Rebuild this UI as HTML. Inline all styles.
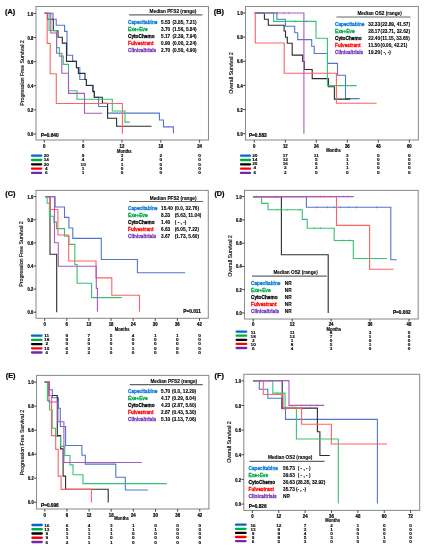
<!DOCTYPE html>
<html><head><meta charset="utf-8"><style>
html,body{margin:0;padding:0;background:#fff;width:424px;height:550px;overflow:hidden}
svg{display:block;will-change:transform}
text{font-family:"Liberation Sans", sans-serif}
</style></head><body>
<svg width="424" height="550" viewBox="0 0 424 550">
<rect width="424" height="550" fill="#fff"/>
<rect x="36.00" y="6.50" width="172.50" height="133.50" fill="none" stroke="#8c8c8c" stroke-width="1.05"/>
<text transform="translate(5.00,14.20) scale(1.0,1)" font-size="7.3" font-weight="bold" fill="#000" text-anchor="start" stroke="#000" stroke-width="0.22">(A)</text>
<line x1="33.60" y1="134.00" x2="36.00" y2="134.00" stroke="#333" stroke-width="0.9"/>
<text transform="translate(33.20,136.10) scale(0.85,1)" font-size="4.8" font-weight="bold" fill="#000" text-anchor="end" stroke="#000" stroke-width="0.2">0.0</text>
<line x1="33.60" y1="109.88" x2="36.00" y2="109.88" stroke="#333" stroke-width="0.9"/>
<text transform="translate(33.20,111.98) scale(0.85,1)" font-size="4.8" font-weight="bold" fill="#000" text-anchor="end" stroke="#000" stroke-width="0.2">0.2</text>
<line x1="33.60" y1="85.76" x2="36.00" y2="85.76" stroke="#333" stroke-width="0.9"/>
<text transform="translate(33.20,87.86) scale(0.85,1)" font-size="4.8" font-weight="bold" fill="#000" text-anchor="end" stroke="#000" stroke-width="0.2">0.4</text>
<line x1="33.60" y1="61.64" x2="36.00" y2="61.64" stroke="#333" stroke-width="0.9"/>
<text transform="translate(33.20,63.74) scale(0.85,1)" font-size="4.8" font-weight="bold" fill="#000" text-anchor="end" stroke="#000" stroke-width="0.2">0.6</text>
<line x1="33.60" y1="37.52" x2="36.00" y2="37.52" stroke="#333" stroke-width="0.9"/>
<text transform="translate(33.20,39.62) scale(0.85,1)" font-size="4.8" font-weight="bold" fill="#000" text-anchor="end" stroke="#000" stroke-width="0.2">0.8</text>
<line x1="33.60" y1="13.40" x2="36.00" y2="13.40" stroke="#333" stroke-width="0.9"/>
<text transform="translate(33.20,15.50) scale(0.85,1)" font-size="4.8" font-weight="bold" fill="#000" text-anchor="end" stroke="#000" stroke-width="0.2">1.0</text>
<text transform="translate(21.60,73.00) rotate(-90) scale(0.9,1)" font-size="5.9" font-weight="normal" fill="#111" stroke="#111" stroke-width="0.18" text-anchor="middle" y="2.1">Progression Free Survival 2</text>
<line x1="44.30" y1="140.00" x2="44.30" y2="142.60" stroke="#333" stroke-width="0.9"/>
<text transform="translate(44.30,148.25) scale(0.9,1)" font-size="4.8" font-weight="bold" fill="#000" text-anchor="middle" stroke="#000" stroke-width="0.2">0</text>
<line x1="83.13" y1="140.00" x2="83.13" y2="142.60" stroke="#333" stroke-width="0.9"/>
<text transform="translate(83.13,148.25) scale(0.9,1)" font-size="4.8" font-weight="bold" fill="#000" text-anchor="middle" stroke="#000" stroke-width="0.2">6</text>
<line x1="121.96" y1="140.00" x2="121.96" y2="142.60" stroke="#333" stroke-width="0.9"/>
<text transform="translate(121.96,148.25) scale(0.9,1)" font-size="4.8" font-weight="bold" fill="#000" text-anchor="middle" stroke="#000" stroke-width="0.2">12</text>
<line x1="160.79" y1="140.00" x2="160.79" y2="142.60" stroke="#333" stroke-width="0.9"/>
<text transform="translate(160.79,148.25) scale(0.9,1)" font-size="4.8" font-weight="bold" fill="#000" text-anchor="middle" stroke="#000" stroke-width="0.2">18</text>
<line x1="199.62" y1="140.00" x2="199.62" y2="142.60" stroke="#333" stroke-width="0.9"/>
<text transform="translate(199.62,148.25) scale(0.9,1)" font-size="4.8" font-weight="bold" fill="#000" text-anchor="middle" stroke="#000" stroke-width="0.2">24</text>
<text transform="translate(124.30,152.75) scale(0.8,1)" font-size="5.2" font-weight="bold" fill="#000" text-anchor="middle" stroke="#000" stroke-width="0.15">Months</text>
<text transform="translate(40.80,136.90) scale(0.765,1)" font-size="6.2" font-weight="bold" fill="#000" text-anchor="start" stroke="#000" stroke-width="0.25">P=0.640</text>
<line x1="32.00" y1="155.70" x2="41.20" y2="155.70" stroke="#0068c8" stroke-width="2.3" stroke-linecap="round"/>
<text transform="translate(46.30,157.00) scale(1.15,1)" font-size="4.1" font-weight="bold" fill="#000" text-anchor="middle" stroke="#000" stroke-width="0.1">20</text>
<text transform="translate(83.13,157.00) scale(1.15,1)" font-size="4.1" font-weight="bold" fill="#000" text-anchor="middle" stroke="#000" stroke-width="0.1">9</text>
<text transform="translate(121.96,157.00) scale(1.15,1)" font-size="4.1" font-weight="bold" fill="#000" text-anchor="middle" stroke="#000" stroke-width="0.1">3</text>
<text transform="translate(160.79,157.00) scale(1.15,1)" font-size="4.1" font-weight="bold" fill="#000" text-anchor="middle" stroke="#000" stroke-width="0.1">2</text>
<text transform="translate(199.62,157.00) scale(1.15,1)" font-size="4.1" font-weight="bold" fill="#000" text-anchor="middle" stroke="#000" stroke-width="0.1">0</text>
<line x1="32.00" y1="160.00" x2="41.20" y2="160.00" stroke="#00aa44" stroke-width="2.3" stroke-linecap="round"/>
<text transform="translate(46.30,161.28) scale(1.15,1)" font-size="4.1" font-weight="bold" fill="#000" text-anchor="middle" stroke="#000" stroke-width="0.1">14</text>
<text transform="translate(83.13,161.28) scale(1.15,1)" font-size="4.1" font-weight="bold" fill="#000" text-anchor="middle" stroke="#000" stroke-width="0.1">4</text>
<text transform="translate(121.96,161.28) scale(1.15,1)" font-size="4.1" font-weight="bold" fill="#000" text-anchor="middle" stroke="#000" stroke-width="0.1">2</text>
<text transform="translate(160.79,161.28) scale(1.15,1)" font-size="4.1" font-weight="bold" fill="#000" text-anchor="middle" stroke="#000" stroke-width="0.1">0</text>
<text transform="translate(199.62,161.28) scale(1.15,1)" font-size="4.1" font-weight="bold" fill="#000" text-anchor="middle" stroke="#000" stroke-width="0.1">0</text>
<line x1="32.00" y1="164.30" x2="41.20" y2="164.30" stroke="#000" stroke-width="2.3" stroke-linecap="round"/>
<text transform="translate(46.30,165.56) scale(1.15,1)" font-size="4.1" font-weight="bold" fill="#000" text-anchor="middle" stroke="#000" stroke-width="0.1">20</text>
<text transform="translate(83.13,165.56) scale(1.15,1)" font-size="4.1" font-weight="bold" fill="#000" text-anchor="middle" stroke="#000" stroke-width="0.1">10</text>
<text transform="translate(121.96,165.56) scale(1.15,1)" font-size="4.1" font-weight="bold" fill="#000" text-anchor="middle" stroke="#000" stroke-width="0.1">1</text>
<text transform="translate(160.79,165.56) scale(1.15,1)" font-size="4.1" font-weight="bold" fill="#000" text-anchor="middle" stroke="#000" stroke-width="0.1">0</text>
<text transform="translate(199.62,165.56) scale(1.15,1)" font-size="4.1" font-weight="bold" fill="#000" text-anchor="middle" stroke="#000" stroke-width="0.1">0</text>
<line x1="32.00" y1="168.60" x2="41.20" y2="168.60" stroke="#ff0000" stroke-width="2.3" stroke-linecap="round"/>
<text transform="translate(46.30,169.84) scale(1.15,1)" font-size="4.1" font-weight="bold" fill="#000" text-anchor="middle" stroke="#000" stroke-width="0.1">4</text>
<text transform="translate(83.13,169.84) scale(1.15,1)" font-size="4.1" font-weight="bold" fill="#000" text-anchor="middle" stroke="#000" stroke-width="0.1">1</text>
<text transform="translate(121.96,169.84) scale(1.15,1)" font-size="4.1" font-weight="bold" fill="#000" text-anchor="middle" stroke="#000" stroke-width="0.1">0</text>
<text transform="translate(160.79,169.84) scale(1.15,1)" font-size="4.1" font-weight="bold" fill="#000" text-anchor="middle" stroke="#000" stroke-width="0.1">0</text>
<text transform="translate(199.62,169.84) scale(1.15,1)" font-size="4.1" font-weight="bold" fill="#000" text-anchor="middle" stroke="#000" stroke-width="0.1">0</text>
<line x1="32.00" y1="172.90" x2="41.20" y2="172.90" stroke="#6e2aaa" stroke-width="2.3" stroke-linecap="round"/>
<text transform="translate(46.30,174.12) scale(1.15,1)" font-size="4.1" font-weight="bold" fill="#000" text-anchor="middle" stroke="#000" stroke-width="0.1">6</text>
<text transform="translate(83.13,174.12) scale(1.15,1)" font-size="4.1" font-weight="bold" fill="#000" text-anchor="middle" stroke="#000" stroke-width="0.1">1</text>
<text transform="translate(121.96,174.12) scale(1.15,1)" font-size="4.1" font-weight="bold" fill="#000" text-anchor="middle" stroke="#000" stroke-width="0.1">0</text>
<text transform="translate(160.79,174.12) scale(1.15,1)" font-size="4.1" font-weight="bold" fill="#000" text-anchor="middle" stroke="#000" stroke-width="0.1">0</text>
<text transform="translate(199.62,174.12) scale(1.15,1)" font-size="4.1" font-weight="bold" fill="#000" text-anchor="middle" stroke="#000" stroke-width="0.1">0</text>
<path d="M44.70,13.30H53.00V19.30H56.20V25.30H64.60V31.40H67.00V55.20H72.60V61.30H76.40V67.70H79.80V79.50H86.40V85.40H93.00V91.30H94.30V97.30H98.60V106.50H107.50V113.10H159.40V120.00H163.50V126.90H173.40V133.20" fill="none" stroke="#5276cc" stroke-width="1.1" stroke-linejoin="miter"/>
<path d="M44.70,13.30H47.50V19.20H53.30V30.70H58.00V37.30H62.30V43.10H66.50V61.40H76.50V67.70H78.40V73.40H85.00V79.50H86.40V85.50H92.90V91.60H94.30V97.30H102.40V103.40H107.60V118.30H116.60V126.30H151.50" fill="none" stroke="#2c2c2c" stroke-width="1.1" stroke-linejoin="miter"/>
<path d="M44.70,13.30H49.10V30.50H56.60V47.60H59.40V56.10H63.30V64.40H68.50V90.70H77.00V99.30H112.30V111.00H125.00V122.10H129.80" fill="none" stroke="#36c274" stroke-width="1.1" stroke-linejoin="miter"/>
<path d="M44.70,13.30H47.20V43.40H50.20V73.70H56.30V103.50H122.40V133.80" fill="none" stroke="#ff6262" stroke-width="1.1" stroke-linejoin="miter"/>
<path d="M44.70,13.30H50.80V33.00H56.60V53.30H61.80V73.20H68.50V93.40H84.50V113.30H102.40" fill="none" stroke="#ab5abc" stroke-width="1.1" stroke-linejoin="miter"/>
<text transform="translate(149.60,13.00) scale(0.765,1)" font-size="6.2" font-weight="bold" fill="#000" text-anchor="start" stroke="#000" stroke-width="0.12">Median PFS2 (range)</text>
<line x1="129.10" y1="14.80" x2="202.40" y2="14.80" stroke="#666" stroke-width="1.2"/>
<text transform="translate(128.00,23.80) scale(0.765,1)" font-size="6.2" font-weight="bold" fill="#0a78d8" text-anchor="start" stroke="#0a78d8" stroke-width="0.3">Capecitabine</text>
<text transform="translate(161.00,23.80) scale(0.765,1)" font-size="6.2" font-weight="bold" fill="#000" text-anchor="start" stroke="#000" stroke-width="0.12">5.53</text>
<text transform="translate(172.50,23.80) scale(0.765,1)" font-size="6.2" font-weight="bold" fill="#000" text-anchor="start" stroke="#000" stroke-width="0.12">(3.85, 7.21)</text>
<text transform="translate(128.00,30.75) scale(0.765,1)" font-size="6.2" font-weight="bold" fill="#00a848" text-anchor="start" stroke="#00a848" stroke-width="0.3">Exe+Eve</text>
<text transform="translate(161.00,30.75) scale(0.765,1)" font-size="6.2" font-weight="bold" fill="#000" text-anchor="start" stroke="#000" stroke-width="0.12">3.70</text>
<text transform="translate(172.50,30.75) scale(0.765,1)" font-size="6.2" font-weight="bold" fill="#000" text-anchor="start" stroke="#000" stroke-width="0.12">(1.56, 5.84)</text>
<text transform="translate(128.00,37.70) scale(0.765,1)" font-size="6.2" font-weight="bold" fill="#000" text-anchor="start" stroke="#000" stroke-width="0.3">CytoChemo</text>
<text transform="translate(161.00,37.70) scale(0.765,1)" font-size="6.2" font-weight="bold" fill="#000" text-anchor="start" stroke="#000" stroke-width="0.12">5.17</text>
<text transform="translate(172.50,37.70) scale(0.765,1)" font-size="6.2" font-weight="bold" fill="#000" text-anchor="start" stroke="#000" stroke-width="0.12">(2.39, 7.94)</text>
<text transform="translate(128.00,44.65) scale(0.765,1)" font-size="6.2" font-weight="bold" fill="#ff0000" text-anchor="start" stroke="#ff0000" stroke-width="0.3">Fulvestrant</text>
<text transform="translate(161.00,44.65) scale(0.765,1)" font-size="6.2" font-weight="bold" fill="#000" text-anchor="start" stroke="#000" stroke-width="0.12">0.90</text>
<text transform="translate(172.50,44.65) scale(0.765,1)" font-size="6.2" font-weight="bold" fill="#000" text-anchor="start" stroke="#000" stroke-width="0.12">(0.00, 2.24)</text>
<text transform="translate(128.00,51.60) scale(0.765,1)" font-size="6.2" font-weight="bold" fill="#7434b8" text-anchor="start" stroke="#7434b8" stroke-width="0.3">Clinicaltrials</text>
<text transform="translate(161.00,51.60) scale(0.765,1)" font-size="6.2" font-weight="bold" fill="#000" text-anchor="start" stroke="#000" stroke-width="0.12">2.70</text>
<text transform="translate(172.50,51.60) scale(0.765,1)" font-size="6.2" font-weight="bold" fill="#000" text-anchor="start" stroke="#000" stroke-width="0.12">(0.50, 4.90)</text>
<rect x="245.50" y="6.50" width="172.90" height="133.50" fill="none" stroke="#8c8c8c" stroke-width="1.05"/>
<text transform="translate(213.70,14.20) scale(1.0,1)" font-size="7.3" font-weight="bold" fill="#000" text-anchor="start" stroke="#000" stroke-width="0.22">(B)</text>
<line x1="243.10" y1="133.70" x2="245.50" y2="133.70" stroke="#333" stroke-width="0.9"/>
<text transform="translate(242.70,135.80) scale(0.85,1)" font-size="4.8" font-weight="bold" fill="#000" text-anchor="end" stroke="#000" stroke-width="0.2">0.0</text>
<line x1="243.10" y1="109.56" x2="245.50" y2="109.56" stroke="#333" stroke-width="0.9"/>
<text transform="translate(242.70,111.66) scale(0.85,1)" font-size="4.8" font-weight="bold" fill="#000" text-anchor="end" stroke="#000" stroke-width="0.2">0.2</text>
<line x1="243.10" y1="85.42" x2="245.50" y2="85.42" stroke="#333" stroke-width="0.9"/>
<text transform="translate(242.70,87.52) scale(0.85,1)" font-size="4.8" font-weight="bold" fill="#000" text-anchor="end" stroke="#000" stroke-width="0.2">0.4</text>
<line x1="243.10" y1="61.28" x2="245.50" y2="61.28" stroke="#333" stroke-width="0.9"/>
<text transform="translate(242.70,63.38) scale(0.85,1)" font-size="4.8" font-weight="bold" fill="#000" text-anchor="end" stroke="#000" stroke-width="0.2">0.6</text>
<line x1="243.10" y1="37.14" x2="245.50" y2="37.14" stroke="#333" stroke-width="0.9"/>
<text transform="translate(242.70,39.24) scale(0.85,1)" font-size="4.8" font-weight="bold" fill="#000" text-anchor="end" stroke="#000" stroke-width="0.2">0.8</text>
<line x1="243.10" y1="13.00" x2="245.50" y2="13.00" stroke="#333" stroke-width="0.9"/>
<text transform="translate(242.70,15.10) scale(0.85,1)" font-size="4.8" font-weight="bold" fill="#000" text-anchor="end" stroke="#000" stroke-width="0.2">1.0</text>
<text transform="translate(230.60,73.00) rotate(-90) scale(0.9,1)" font-size="5.9" font-weight="normal" fill="#111" stroke="#111" stroke-width="0.18" text-anchor="middle" y="2.1">Overall Survival 2</text>
<line x1="254.30" y1="140.00" x2="254.30" y2="142.60" stroke="#333" stroke-width="0.9"/>
<text transform="translate(254.30,147.55) scale(0.9,1)" font-size="4.8" font-weight="bold" fill="#000" text-anchor="middle" stroke="#000" stroke-width="0.2">0</text>
<line x1="285.30" y1="140.00" x2="285.30" y2="142.60" stroke="#333" stroke-width="0.9"/>
<text transform="translate(285.30,147.55) scale(0.9,1)" font-size="4.8" font-weight="bold" fill="#000" text-anchor="middle" stroke="#000" stroke-width="0.2">12</text>
<line x1="316.30" y1="140.00" x2="316.30" y2="142.60" stroke="#333" stroke-width="0.9"/>
<text transform="translate(316.30,147.55) scale(0.9,1)" font-size="4.8" font-weight="bold" fill="#000" text-anchor="middle" stroke="#000" stroke-width="0.2">24</text>
<line x1="347.30" y1="140.00" x2="347.30" y2="142.60" stroke="#333" stroke-width="0.9"/>
<text transform="translate(347.30,147.55) scale(0.9,1)" font-size="4.8" font-weight="bold" fill="#000" text-anchor="middle" stroke="#000" stroke-width="0.2">36</text>
<line x1="378.30" y1="140.00" x2="378.30" y2="142.60" stroke="#333" stroke-width="0.9"/>
<text transform="translate(378.30,147.55) scale(0.9,1)" font-size="4.8" font-weight="bold" fill="#000" text-anchor="middle" stroke="#000" stroke-width="0.2">48</text>
<line x1="409.30" y1="140.00" x2="409.30" y2="142.60" stroke="#333" stroke-width="0.9"/>
<text transform="translate(409.30,147.55) scale(0.9,1)" font-size="4.8" font-weight="bold" fill="#000" text-anchor="middle" stroke="#000" stroke-width="0.2">60</text>
<text transform="translate(333.50,152.25) scale(0.8,1)" font-size="5.2" font-weight="bold" fill="#000" text-anchor="middle" stroke="#000" stroke-width="0.15">Months</text>
<text transform="translate(248.90,136.90) scale(0.765,1)" font-size="6.2" font-weight="bold" fill="#000" text-anchor="start" stroke="#000" stroke-width="0.25">P=0.583</text>
<line x1="241.00" y1="155.70" x2="250.00" y2="155.70" stroke="#0068c8" stroke-width="2.3" stroke-linecap="round"/>
<text transform="translate(254.80,156.50) scale(1.15,1)" font-size="4.1" font-weight="bold" fill="#000" text-anchor="middle" stroke="#000" stroke-width="0.1">20</text>
<text transform="translate(285.30,156.50) scale(1.15,1)" font-size="4.1" font-weight="bold" fill="#000" text-anchor="middle" stroke="#000" stroke-width="0.1">17</text>
<text transform="translate(316.30,156.50) scale(1.15,1)" font-size="4.1" font-weight="bold" fill="#000" text-anchor="middle" stroke="#000" stroke-width="0.1">11</text>
<text transform="translate(347.30,156.50) scale(1.15,1)" font-size="4.1" font-weight="bold" fill="#000" text-anchor="middle" stroke="#000" stroke-width="0.1">3</text>
<text transform="translate(378.30,156.50) scale(1.15,1)" font-size="4.1" font-weight="bold" fill="#000" text-anchor="middle" stroke="#000" stroke-width="0.1">0</text>
<text transform="translate(409.30,156.50) scale(1.15,1)" font-size="4.1" font-weight="bold" fill="#000" text-anchor="middle" stroke="#000" stroke-width="0.1">0</text>
<line x1="241.00" y1="160.00" x2="250.00" y2="160.00" stroke="#00aa44" stroke-width="2.3" stroke-linecap="round"/>
<text transform="translate(254.80,160.80) scale(1.15,1)" font-size="4.1" font-weight="bold" fill="#000" text-anchor="middle" stroke="#000" stroke-width="0.1">14</text>
<text transform="translate(285.30,160.80) scale(1.15,1)" font-size="4.1" font-weight="bold" fill="#000" text-anchor="middle" stroke="#000" stroke-width="0.1">12</text>
<text transform="translate(316.30,160.80) scale(1.15,1)" font-size="4.1" font-weight="bold" fill="#000" text-anchor="middle" stroke="#000" stroke-width="0.1">5</text>
<text transform="translate(347.30,160.80) scale(1.15,1)" font-size="4.1" font-weight="bold" fill="#000" text-anchor="middle" stroke="#000" stroke-width="0.1">1</text>
<text transform="translate(378.30,160.80) scale(1.15,1)" font-size="4.1" font-weight="bold" fill="#000" text-anchor="middle" stroke="#000" stroke-width="0.1">0</text>
<text transform="translate(409.30,160.80) scale(1.15,1)" font-size="4.1" font-weight="bold" fill="#000" text-anchor="middle" stroke="#000" stroke-width="0.1">0</text>
<line x1="241.00" y1="164.30" x2="250.00" y2="164.30" stroke="#000" stroke-width="2.3" stroke-linecap="round"/>
<text transform="translate(254.80,165.10) scale(1.15,1)" font-size="4.1" font-weight="bold" fill="#000" text-anchor="middle" stroke="#000" stroke-width="0.1">20</text>
<text transform="translate(285.30,165.10) scale(1.15,1)" font-size="4.1" font-weight="bold" fill="#000" text-anchor="middle" stroke="#000" stroke-width="0.1">16</text>
<text transform="translate(316.30,165.10) scale(1.15,1)" font-size="4.1" font-weight="bold" fill="#000" text-anchor="middle" stroke="#000" stroke-width="0.1">6</text>
<text transform="translate(347.30,165.10) scale(1.15,1)" font-size="4.1" font-weight="bold" fill="#000" text-anchor="middle" stroke="#000" stroke-width="0.1">1</text>
<text transform="translate(378.30,165.10) scale(1.15,1)" font-size="4.1" font-weight="bold" fill="#000" text-anchor="middle" stroke="#000" stroke-width="0.1">0</text>
<text transform="translate(409.30,165.10) scale(1.15,1)" font-size="4.1" font-weight="bold" fill="#000" text-anchor="middle" stroke="#000" stroke-width="0.1">0</text>
<line x1="241.00" y1="168.60" x2="250.00" y2="168.60" stroke="#ff0000" stroke-width="2.3" stroke-linecap="round"/>
<text transform="translate(254.80,169.40) scale(1.15,1)" font-size="4.1" font-weight="bold" fill="#000" text-anchor="middle" stroke="#000" stroke-width="0.1">4</text>
<text transform="translate(285.30,169.40) scale(1.15,1)" font-size="4.1" font-weight="bold" fill="#000" text-anchor="middle" stroke="#000" stroke-width="0.1">2</text>
<text transform="translate(316.30,169.40) scale(1.15,1)" font-size="4.1" font-weight="bold" fill="#000" text-anchor="middle" stroke="#000" stroke-width="0.1">2</text>
<text transform="translate(347.30,169.40) scale(1.15,1)" font-size="4.1" font-weight="bold" fill="#000" text-anchor="middle" stroke="#000" stroke-width="0.1">1</text>
<text transform="translate(378.30,169.40) scale(1.15,1)" font-size="4.1" font-weight="bold" fill="#000" text-anchor="middle" stroke="#000" stroke-width="0.1">0</text>
<text transform="translate(409.30,169.40) scale(1.15,1)" font-size="4.1" font-weight="bold" fill="#000" text-anchor="middle" stroke="#000" stroke-width="0.1">0</text>
<line x1="241.00" y1="172.90" x2="250.00" y2="172.90" stroke="#6e2aaa" stroke-width="2.3" stroke-linecap="round"/>
<text transform="translate(254.80,173.70) scale(1.15,1)" font-size="4.1" font-weight="bold" fill="#000" text-anchor="middle" stroke="#000" stroke-width="0.1">6</text>
<text transform="translate(285.30,173.70) scale(1.15,1)" font-size="4.1" font-weight="bold" fill="#000" text-anchor="middle" stroke="#000" stroke-width="0.1">2</text>
<text transform="translate(316.30,173.70) scale(1.15,1)" font-size="4.1" font-weight="bold" fill="#000" text-anchor="middle" stroke="#000" stroke-width="0.1">0</text>
<text transform="translate(347.30,173.70) scale(1.15,1)" font-size="4.1" font-weight="bold" fill="#000" text-anchor="middle" stroke="#000" stroke-width="0.1">0</text>
<text transform="translate(378.30,173.70) scale(1.15,1)" font-size="4.1" font-weight="bold" fill="#000" text-anchor="middle" stroke="#000" stroke-width="0.1">0</text>
<text transform="translate(409.30,173.70) scale(1.15,1)" font-size="4.1" font-weight="bold" fill="#000" text-anchor="middle" stroke="#000" stroke-width="0.1">0</text>
<path d="M254.70,13.00H276.90V19.30H285.40V26.20H294.70V32.80H297.70V39.60H311.70V46.20H314.20V53.50H327.50V63.40H337.50V75.20H345.50V98.60H359.70" fill="none" stroke="#5276cc" stroke-width="1.1" stroke-linejoin="miter"/>
<path d="M254.70,13.00H264.40V19.20H268.30V25.30H284.10V31.00H285.50V37.30H287.30V43.20H292.20V55.10H302.70V61.50H304.30V69.50H312.20V78.60H328.40V86.80H334.40V99.10H350.20" fill="none" stroke="#2c2c2c" stroke-width="1.1" stroke-linejoin="miter"/>
<path d="M254.70,13.00H273.60V21.40H316.00V38.30H327.40V85.60H356.80" fill="none" stroke="#36c274" stroke-width="1.1" stroke-linejoin="miter"/>
<path d="M254.70,13.00H255.30V43.00H284.20V73.30H336.40V103.30H376.60" fill="none" stroke="#ff6262" stroke-width="1.1" stroke-linejoin="miter"/>
<path d="M254.70,13.00H303.90V133.70" fill="none" stroke="#ab5abc" stroke-width="1.1" stroke-linejoin="miter"/>
<line x1="277.40" y1="12.00" x2="277.40" y2="14.00" stroke="#ab5abc" stroke-width="0.7"/>
<line x1="284.00" y1="12.00" x2="284.00" y2="14.00" stroke="#ab5abc" stroke-width="0.7"/>
<line x1="288.70" y1="12.00" x2="288.70" y2="14.00" stroke="#ab5abc" stroke-width="0.7"/>
<line x1="278.30" y1="20.40" x2="278.30" y2="22.40" stroke="#36c274" stroke-width="0.7"/>
<line x1="295.30" y1="20.40" x2="295.30" y2="22.40" stroke="#36c274" stroke-width="0.7"/>
<line x1="306.60" y1="20.40" x2="306.60" y2="22.40" stroke="#36c274" stroke-width="0.7"/>
<text transform="translate(357.40,15.00) scale(0.765,1)" font-size="6.2" font-weight="bold" fill="#000" text-anchor="start" stroke="#000" stroke-width="0.12">Median OS2 (range)</text>
<line x1="336.50" y1="17.00" x2="410.50" y2="17.00" stroke="#666" stroke-width="1.2"/>
<text transform="translate(335.00,25.50) scale(0.765,1)" font-size="6.2" font-weight="bold" fill="#0a78d8" text-anchor="start" stroke="#0a78d8" stroke-width="0.3">Capecitabine</text>
<text transform="translate(368.30,25.50) scale(0.765,1)" font-size="6.2" font-weight="bold" fill="#000" text-anchor="start" stroke="#000" stroke-width="0.12">32.33</text>
<text transform="translate(380.60,25.50) scale(0.765,1)" font-size="6.2" font-weight="bold" fill="#000" text-anchor="start" stroke="#000" stroke-width="0.12">(22.89, 41.57)</text>
<text transform="translate(335.00,32.60) scale(0.765,1)" font-size="6.2" font-weight="bold" fill="#00a848" text-anchor="start" stroke="#00a848" stroke-width="0.3">Exe+Eve</text>
<text transform="translate(368.30,32.60) scale(0.765,1)" font-size="6.2" font-weight="bold" fill="#000" text-anchor="start" stroke="#000" stroke-width="0.12">28.17</text>
<text transform="translate(380.60,32.60) scale(0.765,1)" font-size="6.2" font-weight="bold" fill="#000" text-anchor="start" stroke="#000" stroke-width="0.12">(23.71, 32.62)</text>
<text transform="translate(335.00,39.70) scale(0.765,1)" font-size="6.2" font-weight="bold" fill="#000" text-anchor="start" stroke="#000" stroke-width="0.3">CytoChemo</text>
<text transform="translate(368.30,39.70) scale(0.765,1)" font-size="6.2" font-weight="bold" fill="#000" text-anchor="start" stroke="#000" stroke-width="0.12">22.40</text>
<text transform="translate(380.60,39.70) scale(0.765,1)" font-size="6.2" font-weight="bold" fill="#000" text-anchor="start" stroke="#000" stroke-width="0.12">(11.15, 33.65)</text>
<text transform="translate(335.00,46.80) scale(0.765,1)" font-size="6.2" font-weight="bold" fill="#ff0000" text-anchor="start" stroke="#ff0000" stroke-width="0.3">Fulvestrant</text>
<text transform="translate(368.30,46.80) scale(0.765,1)" font-size="6.2" font-weight="bold" fill="#000" text-anchor="start" stroke="#000" stroke-width="0.12">11.50</text>
<text transform="translate(380.60,46.80) scale(0.765,1)" font-size="6.2" font-weight="bold" fill="#000" text-anchor="start" stroke="#000" stroke-width="0.12">(0.00, 42.21)</text>
<text transform="translate(335.00,53.90) scale(0.765,1)" font-size="6.2" font-weight="bold" fill="#7434b8" text-anchor="start" stroke="#7434b8" stroke-width="0.3">Clinicaltrials</text>
<text transform="translate(368.30,53.90) scale(0.765,1)" font-size="6.2" font-weight="bold" fill="#000" text-anchor="start" stroke="#000" stroke-width="0.12">19.20</text>
<text transform="translate(380.60,53.90) scale(0.765,1)" font-size="6.2" font-weight="bold" fill="#000" text-anchor="start" stroke="#000" stroke-width="0.12">( -, -)</text>
<rect x="36.00" y="190.40" width="172.30" height="127.90" fill="none" stroke="#8c8c8c" stroke-width="1.05"/>
<text transform="translate(5.20,196.40) scale(1.0,1)" font-size="7.3" font-weight="bold" fill="#000" text-anchor="start" stroke="#000" stroke-width="0.22">(C)</text>
<line x1="33.60" y1="312.20" x2="36.00" y2="312.20" stroke="#333" stroke-width="0.9"/>
<text transform="translate(33.20,314.30) scale(0.85,1)" font-size="4.8" font-weight="bold" fill="#000" text-anchor="end" stroke="#000" stroke-width="0.2">0.0</text>
<line x1="33.60" y1="289.08" x2="36.00" y2="289.08" stroke="#333" stroke-width="0.9"/>
<text transform="translate(33.20,291.18) scale(0.85,1)" font-size="4.8" font-weight="bold" fill="#000" text-anchor="end" stroke="#000" stroke-width="0.2">0.2</text>
<line x1="33.60" y1="265.96" x2="36.00" y2="265.96" stroke="#333" stroke-width="0.9"/>
<text transform="translate(33.20,268.06) scale(0.85,1)" font-size="4.8" font-weight="bold" fill="#000" text-anchor="end" stroke="#000" stroke-width="0.2">0.4</text>
<line x1="33.60" y1="242.84" x2="36.00" y2="242.84" stroke="#333" stroke-width="0.9"/>
<text transform="translate(33.20,244.94) scale(0.85,1)" font-size="4.8" font-weight="bold" fill="#000" text-anchor="end" stroke="#000" stroke-width="0.2">0.6</text>
<line x1="33.60" y1="219.72" x2="36.00" y2="219.72" stroke="#333" stroke-width="0.9"/>
<text transform="translate(33.20,221.82) scale(0.85,1)" font-size="4.8" font-weight="bold" fill="#000" text-anchor="end" stroke="#000" stroke-width="0.2">0.8</text>
<line x1="33.60" y1="196.60" x2="36.00" y2="196.60" stroke="#333" stroke-width="0.9"/>
<text transform="translate(33.20,198.70) scale(0.85,1)" font-size="4.8" font-weight="bold" fill="#000" text-anchor="end" stroke="#000" stroke-width="0.2">1.0</text>
<text transform="translate(20.50,254.00) rotate(-90) scale(0.9,1)" font-size="5.9" font-weight="normal" fill="#111" stroke="#111" stroke-width="0.18" text-anchor="middle" y="2.1">Progression Free Survival 2</text>
<line x1="44.70" y1="318.30" x2="44.70" y2="320.90" stroke="#333" stroke-width="0.9"/>
<text transform="translate(44.70,326.25) scale(0.9,1)" font-size="4.8" font-weight="bold" fill="#000" text-anchor="middle" stroke="#000" stroke-width="0.2">0</text>
<line x1="66.81" y1="318.30" x2="66.81" y2="320.90" stroke="#333" stroke-width="0.9"/>
<text transform="translate(66.81,326.25) scale(0.9,1)" font-size="4.8" font-weight="bold" fill="#000" text-anchor="middle" stroke="#000" stroke-width="0.2">6</text>
<line x1="88.92" y1="318.30" x2="88.92" y2="320.90" stroke="#333" stroke-width="0.9"/>
<text transform="translate(88.92,326.25) scale(0.9,1)" font-size="4.8" font-weight="bold" fill="#000" text-anchor="middle" stroke="#000" stroke-width="0.2">12</text>
<line x1="111.03" y1="318.30" x2="111.03" y2="320.90" stroke="#333" stroke-width="0.9"/>
<text transform="translate(111.03,326.25) scale(0.9,1)" font-size="4.8" font-weight="bold" fill="#000" text-anchor="middle" stroke="#000" stroke-width="0.2">18</text>
<line x1="133.14" y1="318.30" x2="133.14" y2="320.90" stroke="#333" stroke-width="0.9"/>
<text transform="translate(133.14,326.25) scale(0.9,1)" font-size="4.8" font-weight="bold" fill="#000" text-anchor="middle" stroke="#000" stroke-width="0.2">24</text>
<line x1="155.25" y1="318.30" x2="155.25" y2="320.90" stroke="#333" stroke-width="0.9"/>
<text transform="translate(155.25,326.25) scale(0.9,1)" font-size="4.8" font-weight="bold" fill="#000" text-anchor="middle" stroke="#000" stroke-width="0.2">30</text>
<line x1="177.36" y1="318.30" x2="177.36" y2="320.90" stroke="#333" stroke-width="0.9"/>
<text transform="translate(177.36,326.25) scale(0.9,1)" font-size="4.8" font-weight="bold" fill="#000" text-anchor="middle" stroke="#000" stroke-width="0.2">36</text>
<line x1="199.47" y1="318.30" x2="199.47" y2="320.90" stroke="#333" stroke-width="0.9"/>
<text transform="translate(199.47,326.25) scale(0.9,1)" font-size="4.8" font-weight="bold" fill="#000" text-anchor="middle" stroke="#000" stroke-width="0.2">42</text>
<text transform="translate(122.20,330.65) scale(0.8,1)" font-size="5.2" font-weight="bold" fill="#000" text-anchor="middle" stroke="#000" stroke-width="0.15">Months</text>
<text transform="translate(183.30,312.80) scale(0.765,1)" font-size="6.2" font-weight="bold" fill="#000" text-anchor="start" stroke="#000" stroke-width="0.25">P=0.011</text>
<line x1="32.00" y1="335.70" x2="41.50" y2="335.70" stroke="#0068c8" stroke-width="2.3" stroke-linecap="round"/>
<text transform="translate(46.70,337.00) scale(1.15,1)" font-size="4.1" font-weight="bold" fill="#000" text-anchor="middle" stroke="#000" stroke-width="0.1">11</text>
<text transform="translate(66.81,337.00) scale(1.15,1)" font-size="4.1" font-weight="bold" fill="#000" text-anchor="middle" stroke="#000" stroke-width="0.1">9</text>
<text transform="translate(88.92,337.00) scale(1.15,1)" font-size="4.1" font-weight="bold" fill="#000" text-anchor="middle" stroke="#000" stroke-width="0.1">7</text>
<text transform="translate(111.03,337.00) scale(1.15,1)" font-size="4.1" font-weight="bold" fill="#000" text-anchor="middle" stroke="#000" stroke-width="0.1">5</text>
<text transform="translate(133.14,337.00) scale(1.15,1)" font-size="4.1" font-weight="bold" fill="#000" text-anchor="middle" stroke="#000" stroke-width="0.1">4</text>
<text transform="translate(155.25,337.00) scale(1.15,1)" font-size="4.1" font-weight="bold" fill="#000" text-anchor="middle" stroke="#000" stroke-width="0.1">1</text>
<text transform="translate(177.36,337.00) scale(1.15,1)" font-size="4.1" font-weight="bold" fill="#000" text-anchor="middle" stroke="#000" stroke-width="0.1">1</text>
<text transform="translate(199.47,337.00) scale(1.15,1)" font-size="4.1" font-weight="bold" fill="#000" text-anchor="middle" stroke="#000" stroke-width="0.1">0</text>
<line x1="32.00" y1="339.90" x2="41.50" y2="339.90" stroke="#00aa44" stroke-width="2.3" stroke-linecap="round"/>
<text transform="translate(46.70,341.20) scale(1.15,1)" font-size="4.1" font-weight="bold" fill="#000" text-anchor="middle" stroke="#000" stroke-width="0.1">18</text>
<text transform="translate(66.81,341.20) scale(1.15,1)" font-size="4.1" font-weight="bold" fill="#000" text-anchor="middle" stroke="#000" stroke-width="0.1">9</text>
<text transform="translate(88.92,341.20) scale(1.15,1)" font-size="4.1" font-weight="bold" fill="#000" text-anchor="middle" stroke="#000" stroke-width="0.1">2</text>
<text transform="translate(111.03,341.20) scale(1.15,1)" font-size="4.1" font-weight="bold" fill="#000" text-anchor="middle" stroke="#000" stroke-width="0.1">1</text>
<text transform="translate(133.14,341.20) scale(1.15,1)" font-size="4.1" font-weight="bold" fill="#000" text-anchor="middle" stroke="#000" stroke-width="0.1">0</text>
<text transform="translate(155.25,341.20) scale(1.15,1)" font-size="4.1" font-weight="bold" fill="#000" text-anchor="middle" stroke="#000" stroke-width="0.1">0</text>
<text transform="translate(177.36,341.20) scale(1.15,1)" font-size="4.1" font-weight="bold" fill="#000" text-anchor="middle" stroke="#000" stroke-width="0.1">0</text>
<text transform="translate(199.47,341.20) scale(1.15,1)" font-size="4.1" font-weight="bold" fill="#000" text-anchor="middle" stroke="#000" stroke-width="0.1">0</text>
<line x1="32.00" y1="344.10" x2="41.50" y2="344.10" stroke="#000" stroke-width="2.3" stroke-linecap="round"/>
<text transform="translate(46.70,345.40) scale(1.15,1)" font-size="4.1" font-weight="bold" fill="#000" text-anchor="middle" stroke="#000" stroke-width="0.1">2</text>
<text transform="translate(66.81,345.40) scale(1.15,1)" font-size="4.1" font-weight="bold" fill="#000" text-anchor="middle" stroke="#000" stroke-width="0.1">0</text>
<text transform="translate(88.92,345.40) scale(1.15,1)" font-size="4.1" font-weight="bold" fill="#000" text-anchor="middle" stroke="#000" stroke-width="0.1">0</text>
<text transform="translate(111.03,345.40) scale(1.15,1)" font-size="4.1" font-weight="bold" fill="#000" text-anchor="middle" stroke="#000" stroke-width="0.1">0</text>
<text transform="translate(133.14,345.40) scale(1.15,1)" font-size="4.1" font-weight="bold" fill="#000" text-anchor="middle" stroke="#000" stroke-width="0.1">0</text>
<text transform="translate(155.25,345.40) scale(1.15,1)" font-size="4.1" font-weight="bold" fill="#000" text-anchor="middle" stroke="#000" stroke-width="0.1">0</text>
<text transform="translate(177.36,345.40) scale(1.15,1)" font-size="4.1" font-weight="bold" fill="#000" text-anchor="middle" stroke="#000" stroke-width="0.1">0</text>
<text transform="translate(199.47,345.40) scale(1.15,1)" font-size="4.1" font-weight="bold" fill="#000" text-anchor="middle" stroke="#000" stroke-width="0.1">0</text>
<line x1="32.00" y1="348.30" x2="41.50" y2="348.30" stroke="#ff0000" stroke-width="2.3" stroke-linecap="round"/>
<text transform="translate(46.70,349.60) scale(1.15,1)" font-size="4.1" font-weight="bold" fill="#000" text-anchor="middle" stroke="#000" stroke-width="0.1">10</text>
<text transform="translate(66.81,349.60) scale(1.15,1)" font-size="4.1" font-weight="bold" fill="#000" text-anchor="middle" stroke="#000" stroke-width="0.1">6</text>
<text transform="translate(88.92,349.60) scale(1.15,1)" font-size="4.1" font-weight="bold" fill="#000" text-anchor="middle" stroke="#000" stroke-width="0.1">3</text>
<text transform="translate(111.03,349.60) scale(1.15,1)" font-size="4.1" font-weight="bold" fill="#000" text-anchor="middle" stroke="#000" stroke-width="0.1">1</text>
<text transform="translate(133.14,349.60) scale(1.15,1)" font-size="4.1" font-weight="bold" fill="#000" text-anchor="middle" stroke="#000" stroke-width="0.1">1</text>
<text transform="translate(155.25,349.60) scale(1.15,1)" font-size="4.1" font-weight="bold" fill="#000" text-anchor="middle" stroke="#000" stroke-width="0.1">0</text>
<text transform="translate(177.36,349.60) scale(1.15,1)" font-size="4.1" font-weight="bold" fill="#000" text-anchor="middle" stroke="#000" stroke-width="0.1">0</text>
<text transform="translate(199.47,349.60) scale(1.15,1)" font-size="4.1" font-weight="bold" fill="#000" text-anchor="middle" stroke="#000" stroke-width="0.1">0</text>
<line x1="32.00" y1="352.50" x2="41.50" y2="352.50" stroke="#6e2aaa" stroke-width="2.3" stroke-linecap="round"/>
<text transform="translate(46.70,353.80) scale(1.15,1)" font-size="4.1" font-weight="bold" fill="#000" text-anchor="middle" stroke="#000" stroke-width="0.1">6</text>
<text transform="translate(66.81,353.80) scale(1.15,1)" font-size="4.1" font-weight="bold" fill="#000" text-anchor="middle" stroke="#000" stroke-width="0.1">2</text>
<text transform="translate(88.92,353.80) scale(1.15,1)" font-size="4.1" font-weight="bold" fill="#000" text-anchor="middle" stroke="#000" stroke-width="0.1">2</text>
<text transform="translate(111.03,353.80) scale(1.15,1)" font-size="4.1" font-weight="bold" fill="#000" text-anchor="middle" stroke="#000" stroke-width="0.1">0</text>
<text transform="translate(133.14,353.80) scale(1.15,1)" font-size="4.1" font-weight="bold" fill="#000" text-anchor="middle" stroke="#000" stroke-width="0.1">0</text>
<text transform="translate(155.25,353.80) scale(1.15,1)" font-size="4.1" font-weight="bold" fill="#000" text-anchor="middle" stroke="#000" stroke-width="0.1">0</text>
<text transform="translate(177.36,353.80) scale(1.15,1)" font-size="4.1" font-weight="bold" fill="#000" text-anchor="middle" stroke="#000" stroke-width="0.1">0</text>
<text transform="translate(199.47,353.80) scale(1.15,1)" font-size="4.1" font-weight="bold" fill="#000" text-anchor="middle" stroke="#000" stroke-width="0.1">0</text>
<path d="M45.30,196.70H55.10V207.00H64.50V217.40H68.90V228.00H72.80V238.40H101.30V259.50H137.40V272.70H185.20" fill="none" stroke="#5276cc" stroke-width="1.1" stroke-linejoin="miter"/>
<path d="M45.30,196.70H50.00V254.30H56.70V312.20" fill="none" stroke="#2c2c2c" stroke-width="1.1" stroke-linejoin="miter"/>
<path d="M45.30,196.70H47.10V203.20H49.40V216.20H53.90V222.10H56.50V228.60H64.50V236.10H68.90V244.40H74.80V264.50H77.10V283.20H91.60V297.60H121.70" fill="none" stroke="#36c274" stroke-width="1.1" stroke-linejoin="miter"/>
<path d="M45.30,196.70H50.00V209.50H57.90V235.00H68.70V261.00H96.00V277.90H111.80V295.20H139.50V311.80" fill="none" stroke="#ff6262" stroke-width="1.1" stroke-linejoin="miter"/>
<path d="M45.30,196.70H54.50V242.70H58.30V266.20H96.30V288.40H97.40V311.70" fill="none" stroke="#ab5abc" stroke-width="1.1" stroke-linejoin="miter"/>
<text transform="translate(149.80,199.50) scale(0.765,1)" font-size="6.2" font-weight="bold" fill="#000" text-anchor="start" stroke="#000" stroke-width="0.12">Median PFS2 (range)</text>
<line x1="129.10" y1="201.50" x2="203.20" y2="201.50" stroke="#666" stroke-width="1.2"/>
<text transform="translate(128.00,209.70) scale(0.765,1)" font-size="6.2" font-weight="bold" fill="#0a78d8" text-anchor="start" stroke="#0a78d8" stroke-width="0.3">Capecitabine</text>
<text transform="translate(161.00,209.70) scale(0.765,1)" font-size="6.2" font-weight="bold" fill="#000" text-anchor="start" stroke="#000" stroke-width="0.12">15.40</text>
<text transform="translate(174.80,209.70) scale(0.765,1)" font-size="6.2" font-weight="bold" fill="#000" text-anchor="start" stroke="#000" stroke-width="0.12">(0.0, 32.76)</text>
<text transform="translate(128.00,216.73) scale(0.765,1)" font-size="6.2" font-weight="bold" fill="#00a848" text-anchor="start" stroke="#00a848" stroke-width="0.3">Exe+Eve</text>
<text transform="translate(161.00,216.73) scale(0.765,1)" font-size="6.2" font-weight="bold" fill="#000" text-anchor="start" stroke="#000" stroke-width="0.12">8.33</text>
<text transform="translate(174.80,216.73) scale(0.765,1)" font-size="6.2" font-weight="bold" fill="#000" text-anchor="start" stroke="#000" stroke-width="0.12">(5.63, 11.04)</text>
<text transform="translate(128.00,223.76) scale(0.765,1)" font-size="6.2" font-weight="bold" fill="#000" text-anchor="start" stroke="#000" stroke-width="0.3">CytoChemo</text>
<text transform="translate(161.00,223.76) scale(0.765,1)" font-size="6.2" font-weight="bold" fill="#000" text-anchor="start" stroke="#000" stroke-width="0.12">1.40</text>
<text transform="translate(174.80,223.76) scale(0.765,1)" font-size="6.2" font-weight="bold" fill="#000" text-anchor="start" stroke="#000" stroke-width="0.12">( - , -)</text>
<text transform="translate(128.00,230.79) scale(0.765,1)" font-size="6.2" font-weight="bold" fill="#ff0000" text-anchor="start" stroke="#ff0000" stroke-width="0.3">Fulvestrant</text>
<text transform="translate(161.00,230.79) scale(0.765,1)" font-size="6.2" font-weight="bold" fill="#000" text-anchor="start" stroke="#000" stroke-width="0.12">6.63</text>
<text transform="translate(174.80,230.79) scale(0.765,1)" font-size="6.2" font-weight="bold" fill="#000" text-anchor="start" stroke="#000" stroke-width="0.12">(6.05, 7.22)</text>
<text transform="translate(128.00,237.82) scale(0.765,1)" font-size="6.2" font-weight="bold" fill="#7434b8" text-anchor="start" stroke="#7434b8" stroke-width="0.3">Clinicaltrials</text>
<text transform="translate(161.00,237.82) scale(0.765,1)" font-size="6.2" font-weight="bold" fill="#000" text-anchor="start" stroke="#000" stroke-width="0.12">3.67</text>
<text transform="translate(174.80,237.82) scale(0.765,1)" font-size="6.2" font-weight="bold" fill="#000" text-anchor="start" stroke="#000" stroke-width="0.12">(1.73, 5.60)</text>
<rect x="244.50" y="190.40" width="173.70" height="128.60" fill="none" stroke="#8c8c8c" stroke-width="1.05"/>
<text transform="translate(214.40,196.40) scale(1.0,1)" font-size="7.3" font-weight="bold" fill="#000" text-anchor="start" stroke="#000" stroke-width="0.22">(D)</text>
<line x1="242.10" y1="312.90" x2="244.50" y2="312.90" stroke="#333" stroke-width="0.9"/>
<text transform="translate(241.70,315.00) scale(0.85,1)" font-size="4.8" font-weight="bold" fill="#000" text-anchor="end" stroke="#000" stroke-width="0.2">0.0</text>
<line x1="242.10" y1="289.64" x2="244.50" y2="289.64" stroke="#333" stroke-width="0.9"/>
<text transform="translate(241.70,291.74) scale(0.85,1)" font-size="4.8" font-weight="bold" fill="#000" text-anchor="end" stroke="#000" stroke-width="0.2">0.2</text>
<line x1="242.10" y1="266.38" x2="244.50" y2="266.38" stroke="#333" stroke-width="0.9"/>
<text transform="translate(241.70,268.48) scale(0.85,1)" font-size="4.8" font-weight="bold" fill="#000" text-anchor="end" stroke="#000" stroke-width="0.2">0.4</text>
<line x1="242.10" y1="243.12" x2="244.50" y2="243.12" stroke="#333" stroke-width="0.9"/>
<text transform="translate(241.70,245.22) scale(0.85,1)" font-size="4.8" font-weight="bold" fill="#000" text-anchor="end" stroke="#000" stroke-width="0.2">0.6</text>
<line x1="242.10" y1="219.86" x2="244.50" y2="219.86" stroke="#333" stroke-width="0.9"/>
<text transform="translate(241.70,221.96) scale(0.85,1)" font-size="4.8" font-weight="bold" fill="#000" text-anchor="end" stroke="#000" stroke-width="0.2">0.8</text>
<line x1="242.10" y1="196.60" x2="244.50" y2="196.60" stroke="#333" stroke-width="0.9"/>
<text transform="translate(241.70,198.70) scale(0.85,1)" font-size="4.8" font-weight="bold" fill="#000" text-anchor="end" stroke="#000" stroke-width="0.2">1.0</text>
<text transform="translate(230.30,256.00) rotate(-90) scale(0.9,1)" font-size="5.9" font-weight="normal" fill="#111" stroke="#111" stroke-width="0.18" text-anchor="middle" y="2.1">Overall Survival 2</text>
<line x1="253.20" y1="319.00" x2="253.20" y2="321.60" stroke="#333" stroke-width="0.9"/>
<text transform="translate(253.20,326.25) scale(0.9,1)" font-size="4.8" font-weight="bold" fill="#000" text-anchor="middle" stroke="#000" stroke-width="0.2">0</text>
<line x1="292.15" y1="319.00" x2="292.15" y2="321.60" stroke="#333" stroke-width="0.9"/>
<text transform="translate(292.15,326.25) scale(0.9,1)" font-size="4.8" font-weight="bold" fill="#000" text-anchor="middle" stroke="#000" stroke-width="0.2">12</text>
<line x1="331.10" y1="319.00" x2="331.10" y2="321.60" stroke="#333" stroke-width="0.9"/>
<text transform="translate(331.10,326.25) scale(0.9,1)" font-size="4.8" font-weight="bold" fill="#000" text-anchor="middle" stroke="#000" stroke-width="0.2">24</text>
<line x1="370.05" y1="319.00" x2="370.05" y2="321.60" stroke="#333" stroke-width="0.9"/>
<text transform="translate(370.05,326.25) scale(0.9,1)" font-size="4.8" font-weight="bold" fill="#000" text-anchor="middle" stroke="#000" stroke-width="0.2">36</text>
<line x1="409.00" y1="319.00" x2="409.00" y2="321.60" stroke="#333" stroke-width="0.9"/>
<text transform="translate(409.00,326.25) scale(0.9,1)" font-size="4.8" font-weight="bold" fill="#000" text-anchor="middle" stroke="#000" stroke-width="0.2">48</text>
<text transform="translate(333.80,330.85) scale(0.8,1)" font-size="5.2" font-weight="bold" fill="#000" text-anchor="middle" stroke="#000" stroke-width="0.15">Months</text>
<text transform="translate(392.90,313.50) scale(0.765,1)" font-size="6.2" font-weight="bold" fill="#000" text-anchor="start" stroke="#000" stroke-width="0.25">P=0.002</text>
<line x1="236.60" y1="331.60" x2="246.20" y2="331.60" stroke="#0068c8" stroke-width="2.3" stroke-linecap="round"/>
<text transform="translate(253.20,334.10) scale(1.15,1)" font-size="4.1" font-weight="bold" fill="#000" text-anchor="middle" stroke="#000" stroke-width="0.1">11</text>
<text transform="translate(292.15,334.10) scale(1.15,1)" font-size="4.1" font-weight="bold" fill="#000" text-anchor="middle" stroke="#000" stroke-width="0.1">11</text>
<text transform="translate(331.10,334.10) scale(1.15,1)" font-size="4.1" font-weight="bold" fill="#000" text-anchor="middle" stroke="#000" stroke-width="0.1">8</text>
<text transform="translate(370.05,334.10) scale(1.15,1)" font-size="4.1" font-weight="bold" fill="#000" text-anchor="middle" stroke="#000" stroke-width="0.1">3</text>
<text transform="translate(409.00,334.10) scale(1.15,1)" font-size="4.1" font-weight="bold" fill="#000" text-anchor="middle" stroke="#000" stroke-width="0.1">0</text>
<line x1="236.60" y1="335.70" x2="246.20" y2="335.70" stroke="#00aa44" stroke-width="2.3" stroke-linecap="round"/>
<text transform="translate(253.20,338.13) scale(1.15,1)" font-size="4.1" font-weight="bold" fill="#000" text-anchor="middle" stroke="#000" stroke-width="0.1">18</text>
<text transform="translate(292.15,338.13) scale(1.15,1)" font-size="4.1" font-weight="bold" fill="#000" text-anchor="middle" stroke="#000" stroke-width="0.1">12</text>
<text transform="translate(331.10,338.13) scale(1.15,1)" font-size="4.1" font-weight="bold" fill="#000" text-anchor="middle" stroke="#000" stroke-width="0.1">7</text>
<text transform="translate(370.05,338.13) scale(1.15,1)" font-size="4.1" font-weight="bold" fill="#000" text-anchor="middle" stroke="#000" stroke-width="0.1">1</text>
<text transform="translate(409.00,338.13) scale(1.15,1)" font-size="4.1" font-weight="bold" fill="#000" text-anchor="middle" stroke="#000" stroke-width="0.1">0</text>
<line x1="236.60" y1="339.80" x2="246.20" y2="339.80" stroke="#000" stroke-width="2.3" stroke-linecap="round"/>
<text transform="translate(253.20,342.16) scale(1.15,1)" font-size="4.1" font-weight="bold" fill="#000" text-anchor="middle" stroke="#000" stroke-width="0.1">2</text>
<text transform="translate(292.15,342.16) scale(1.15,1)" font-size="4.1" font-weight="bold" fill="#000" text-anchor="middle" stroke="#000" stroke-width="0.1">1</text>
<text transform="translate(331.10,342.16) scale(1.15,1)" font-size="4.1" font-weight="bold" fill="#000" text-anchor="middle" stroke="#000" stroke-width="0.1">0</text>
<text transform="translate(370.05,342.16) scale(1.15,1)" font-size="4.1" font-weight="bold" fill="#000" text-anchor="middle" stroke="#000" stroke-width="0.1">0</text>
<text transform="translate(409.00,342.16) scale(1.15,1)" font-size="4.1" font-weight="bold" fill="#000" text-anchor="middle" stroke="#000" stroke-width="0.1">0</text>
<line x1="236.60" y1="343.90" x2="246.20" y2="343.90" stroke="#ff0000" stroke-width="2.3" stroke-linecap="round"/>
<text transform="translate(253.20,346.19) scale(1.15,1)" font-size="4.1" font-weight="bold" fill="#000" text-anchor="middle" stroke="#000" stroke-width="0.1">10</text>
<text transform="translate(292.15,346.19) scale(1.15,1)" font-size="4.1" font-weight="bold" fill="#000" text-anchor="middle" stroke="#000" stroke-width="0.1">8</text>
<text transform="translate(331.10,346.19) scale(1.15,1)" font-size="4.1" font-weight="bold" fill="#000" text-anchor="middle" stroke="#000" stroke-width="0.1">5</text>
<text transform="translate(370.05,346.19) scale(1.15,1)" font-size="4.1" font-weight="bold" fill="#000" text-anchor="middle" stroke="#000" stroke-width="0.1">1</text>
<text transform="translate(409.00,346.19) scale(1.15,1)" font-size="4.1" font-weight="bold" fill="#000" text-anchor="middle" stroke="#000" stroke-width="0.1">0</text>
<line x1="236.60" y1="348.00" x2="246.20" y2="348.00" stroke="#6e2aaa" stroke-width="2.3" stroke-linecap="round"/>
<text transform="translate(253.20,350.22) scale(1.15,1)" font-size="4.1" font-weight="bold" fill="#000" text-anchor="middle" stroke="#000" stroke-width="0.1">6</text>
<text transform="translate(292.15,350.22) scale(1.15,1)" font-size="4.1" font-weight="bold" fill="#000" text-anchor="middle" stroke="#000" stroke-width="0.1">4</text>
<text transform="translate(331.10,350.22) scale(1.15,1)" font-size="4.1" font-weight="bold" fill="#000" text-anchor="middle" stroke="#000" stroke-width="0.1">3</text>
<text transform="translate(370.05,350.22) scale(1.15,1)" font-size="4.1" font-weight="bold" fill="#000" text-anchor="middle" stroke="#000" stroke-width="0.1">0</text>
<text transform="translate(409.00,350.22) scale(1.15,1)" font-size="4.1" font-weight="bold" fill="#000" text-anchor="middle" stroke="#000" stroke-width="0.1">0</text>
<path d="M253.10,196.60H306.40V207.30H390.80V259.70H396.80" fill="none" stroke="#5276cc" stroke-width="1.1" stroke-linejoin="miter"/>
<path d="M253.10,196.60H281.40V254.70H328.20V312.90" fill="none" stroke="#2c2c2c" stroke-width="1.1" stroke-linejoin="miter"/>
<path d="M253.10,196.60H261.60V203.40H268.10V209.80H302.30V219.40H307.20V228.20H334.20V240.50H353.30V258.50H386.90" fill="none" stroke="#36c274" stroke-width="1.1" stroke-linejoin="miter"/>
<path d="M253.10,196.60H336.50V225.40H369.60V269.30H393.50" fill="none" stroke="#ff6262" stroke-width="1.1" stroke-linejoin="miter"/>
<path d="M253.10,196.60H353.70" fill="none" stroke="#ab5abc" stroke-width="1.1" stroke-linejoin="miter"/>
<line x1="256.40" y1="195.60" x2="256.40" y2="197.60" stroke="#ab5abc" stroke-width="0.7"/>
<line x1="276.20" y1="195.60" x2="276.20" y2="197.60" stroke="#ab5abc" stroke-width="0.7"/>
<line x1="343.80" y1="195.60" x2="343.80" y2="197.60" stroke="#ab5abc" stroke-width="0.7"/>
<line x1="348.00" y1="195.60" x2="348.00" y2="197.60" stroke="#ab5abc" stroke-width="0.7"/>
<line x1="320.50" y1="195.60" x2="320.50" y2="197.60" stroke="#ff6262" stroke-width="0.7"/>
<line x1="324.00" y1="195.60" x2="324.00" y2="197.60" stroke="#ff6262" stroke-width="0.7"/>
<line x1="330.40" y1="195.60" x2="330.40" y2="197.60" stroke="#ff6262" stroke-width="0.7"/>
<line x1="276.90" y1="208.80" x2="276.90" y2="210.80" stroke="#36c274" stroke-width="0.7"/>
<line x1="280.80" y1="208.80" x2="280.80" y2="210.80" stroke="#36c274" stroke-width="0.7"/>
<line x1="287.00" y1="208.80" x2="287.00" y2="210.80" stroke="#36c274" stroke-width="0.7"/>
<line x1="299.80" y1="208.80" x2="299.80" y2="210.80" stroke="#36c274" stroke-width="0.7"/>
<line x1="314.10" y1="227.20" x2="314.10" y2="229.20" stroke="#36c274" stroke-width="0.7"/>
<line x1="320.50" y1="227.20" x2="320.50" y2="229.20" stroke="#36c274" stroke-width="0.7"/>
<line x1="342.40" y1="239.50" x2="342.40" y2="241.50" stroke="#36c274" stroke-width="0.7"/>
<line x1="349.50" y1="239.50" x2="349.50" y2="241.50" stroke="#36c274" stroke-width="0.7"/>
<line x1="316.70" y1="206.30" x2="316.70" y2="208.30" stroke="#5276cc" stroke-width="0.7"/>
<line x1="327.60" y1="206.30" x2="327.60" y2="208.30" stroke="#5276cc" stroke-width="0.7"/>
<line x1="334.20" y1="206.30" x2="334.20" y2="208.30" stroke="#5276cc" stroke-width="0.7"/>
<line x1="340.30" y1="206.30" x2="340.30" y2="208.30" stroke="#5276cc" stroke-width="0.7"/>
<line x1="348.80" y1="206.30" x2="348.80" y2="208.30" stroke="#5276cc" stroke-width="0.7"/>
<line x1="356.50" y1="206.30" x2="356.50" y2="208.30" stroke="#5276cc" stroke-width="0.7"/>
<line x1="376.60" y1="206.30" x2="376.60" y2="208.30" stroke="#5276cc" stroke-width="0.7"/>
<text transform="translate(273.40,273.80) scale(0.765,1)" font-size="6.2" font-weight="bold" fill="#000" text-anchor="start" stroke="#000" stroke-width="0.12">Median OS2 (range)</text>
<line x1="252.00" y1="276.20" x2="326.70" y2="276.20" stroke="#666" stroke-width="1.2"/>
<text transform="translate(251.00,284.70) scale(0.765,1)" font-size="6.2" font-weight="bold" fill="#0a78d8" text-anchor="start" stroke="#0a78d8" stroke-width="0.3">Capecitabine</text>
<text transform="translate(284.80,284.70) scale(0.765,1)" font-size="6.2" font-weight="bold" fill="#000" text-anchor="start" stroke="#000" stroke-width="0.12">NR</text>
<text transform="translate(251.00,291.72) scale(0.765,1)" font-size="6.2" font-weight="bold" fill="#00a848" text-anchor="start" stroke="#00a848" stroke-width="0.3">Exe+Eve</text>
<text transform="translate(284.80,291.72) scale(0.765,1)" font-size="6.2" font-weight="bold" fill="#000" text-anchor="start" stroke="#000" stroke-width="0.12">NR</text>
<text transform="translate(251.00,298.74) scale(0.765,1)" font-size="6.2" font-weight="bold" fill="#000" text-anchor="start" stroke="#000" stroke-width="0.3">CytoChemo</text>
<text transform="translate(284.80,298.74) scale(0.765,1)" font-size="6.2" font-weight="bold" fill="#000" text-anchor="start" stroke="#000" stroke-width="0.12">NR</text>
<text transform="translate(251.00,305.76) scale(0.765,1)" font-size="6.2" font-weight="bold" fill="#ff0000" text-anchor="start" stroke="#ff0000" stroke-width="0.3">Fulvestrant</text>
<text transform="translate(284.80,305.76) scale(0.765,1)" font-size="6.2" font-weight="bold" fill="#000" text-anchor="start" stroke="#000" stroke-width="0.12">NR</text>
<text transform="translate(251.00,312.78) scale(0.765,1)" font-size="6.2" font-weight="bold" fill="#7434b8" text-anchor="start" stroke="#7434b8" stroke-width="0.3">Clinicaltrials</text>
<text transform="translate(284.80,312.78) scale(0.765,1)" font-size="6.2" font-weight="bold" fill="#000" text-anchor="start" stroke="#000" stroke-width="0.12">NR</text>
<rect x="36.50" y="375.40" width="172.40" height="133.60" fill="none" stroke="#8c8c8c" stroke-width="1.05"/>
<text transform="translate(5.70,378.30) scale(1.0,1)" font-size="7.3" font-weight="bold" fill="#000" text-anchor="start" stroke="#000" stroke-width="0.22">(E)</text>
<line x1="34.10" y1="502.20" x2="36.50" y2="502.20" stroke="#333" stroke-width="0.9"/>
<text transform="translate(33.70,504.30) scale(0.85,1)" font-size="4.8" font-weight="bold" fill="#000" text-anchor="end" stroke="#000" stroke-width="0.2">0.0</text>
<line x1="34.10" y1="478.18" x2="36.50" y2="478.18" stroke="#333" stroke-width="0.9"/>
<text transform="translate(33.70,480.28) scale(0.85,1)" font-size="4.8" font-weight="bold" fill="#000" text-anchor="end" stroke="#000" stroke-width="0.2">0.2</text>
<line x1="34.10" y1="454.16" x2="36.50" y2="454.16" stroke="#333" stroke-width="0.9"/>
<text transform="translate(33.70,456.26) scale(0.85,1)" font-size="4.8" font-weight="bold" fill="#000" text-anchor="end" stroke="#000" stroke-width="0.2">0.4</text>
<line x1="34.10" y1="430.14" x2="36.50" y2="430.14" stroke="#333" stroke-width="0.9"/>
<text transform="translate(33.70,432.24) scale(0.85,1)" font-size="4.8" font-weight="bold" fill="#000" text-anchor="end" stroke="#000" stroke-width="0.2">0.6</text>
<line x1="34.10" y1="406.12" x2="36.50" y2="406.12" stroke="#333" stroke-width="0.9"/>
<text transform="translate(33.70,408.22) scale(0.85,1)" font-size="4.8" font-weight="bold" fill="#000" text-anchor="end" stroke="#000" stroke-width="0.2">0.8</text>
<line x1="34.10" y1="382.10" x2="36.50" y2="382.10" stroke="#333" stroke-width="0.9"/>
<text transform="translate(33.70,384.20) scale(0.85,1)" font-size="4.8" font-weight="bold" fill="#000" text-anchor="end" stroke="#000" stroke-width="0.2">1.0</text>
<text transform="translate(21.40,442.50) rotate(-90) scale(0.9,1)" font-size="5.9" font-weight="normal" fill="#111" stroke="#111" stroke-width="0.18" text-anchor="middle" y="2.1">Progression Free Survival 2</text>
<line x1="44.80" y1="509.00" x2="44.80" y2="511.60" stroke="#333" stroke-width="0.9"/>
<text transform="translate(44.80,516.85) scale(0.9,1)" font-size="4.8" font-weight="bold" fill="#000" text-anchor="middle" stroke="#000" stroke-width="0.2">0</text>
<line x1="66.94" y1="509.00" x2="66.94" y2="511.60" stroke="#333" stroke-width="0.9"/>
<text transform="translate(66.94,516.85) scale(0.9,1)" font-size="4.8" font-weight="bold" fill="#000" text-anchor="middle" stroke="#000" stroke-width="0.2">6</text>
<line x1="89.08" y1="509.00" x2="89.08" y2="511.60" stroke="#333" stroke-width="0.9"/>
<text transform="translate(89.08,516.85) scale(0.9,1)" font-size="4.8" font-weight="bold" fill="#000" text-anchor="middle" stroke="#000" stroke-width="0.2">12</text>
<line x1="111.22" y1="509.00" x2="111.22" y2="511.60" stroke="#333" stroke-width="0.9"/>
<text transform="translate(111.22,516.85) scale(0.9,1)" font-size="4.8" font-weight="bold" fill="#000" text-anchor="middle" stroke="#000" stroke-width="0.2">18</text>
<line x1="133.36" y1="509.00" x2="133.36" y2="511.60" stroke="#333" stroke-width="0.9"/>
<text transform="translate(133.36,516.85) scale(0.9,1)" font-size="4.8" font-weight="bold" fill="#000" text-anchor="middle" stroke="#000" stroke-width="0.2">24</text>
<line x1="155.50" y1="509.00" x2="155.50" y2="511.60" stroke="#333" stroke-width="0.9"/>
<text transform="translate(155.50,516.85) scale(0.9,1)" font-size="4.8" font-weight="bold" fill="#000" text-anchor="middle" stroke="#000" stroke-width="0.2">30</text>
<line x1="177.64" y1="509.00" x2="177.64" y2="511.60" stroke="#333" stroke-width="0.9"/>
<text transform="translate(177.64,516.85) scale(0.9,1)" font-size="4.8" font-weight="bold" fill="#000" text-anchor="middle" stroke="#000" stroke-width="0.2">36</text>
<line x1="199.78" y1="509.00" x2="199.78" y2="511.60" stroke="#333" stroke-width="0.9"/>
<text transform="translate(199.78,516.85) scale(0.9,1)" font-size="4.8" font-weight="bold" fill="#000" text-anchor="middle" stroke="#000" stroke-width="0.2">42</text>
<text transform="translate(121.50,520.25) scale(0.8,1)" font-size="5.2" font-weight="bold" fill="#000" text-anchor="middle" stroke="#000" stroke-width="0.15">Months</text>
<text transform="translate(41.00,507.10) scale(0.765,1)" font-size="6.2" font-weight="bold" fill="#000" text-anchor="start" stroke="#000" stroke-width="0.25">P=0.096</text>
<line x1="32.40" y1="525.00" x2="41.80" y2="525.00" stroke="#0068c8" stroke-width="2.3" stroke-linecap="round"/>
<text transform="translate(46.80,526.50) scale(1.15,1)" font-size="4.1" font-weight="bold" fill="#000" text-anchor="middle" stroke="#000" stroke-width="0.1">16</text>
<text transform="translate(66.94,526.50) scale(1.15,1)" font-size="4.1" font-weight="bold" fill="#000" text-anchor="middle" stroke="#000" stroke-width="0.1">6</text>
<text transform="translate(89.08,526.50) scale(1.15,1)" font-size="4.1" font-weight="bold" fill="#000" text-anchor="middle" stroke="#000" stroke-width="0.1">4</text>
<text transform="translate(111.22,526.50) scale(1.15,1)" font-size="4.1" font-weight="bold" fill="#000" text-anchor="middle" stroke="#000" stroke-width="0.1">3</text>
<text transform="translate(133.36,526.50) scale(1.15,1)" font-size="4.1" font-weight="bold" fill="#000" text-anchor="middle" stroke="#000" stroke-width="0.1">1</text>
<text transform="translate(155.50,526.50) scale(1.15,1)" font-size="4.1" font-weight="bold" fill="#000" text-anchor="middle" stroke="#000" stroke-width="0.1">0</text>
<text transform="translate(177.64,526.50) scale(1.15,1)" font-size="4.1" font-weight="bold" fill="#000" text-anchor="middle" stroke="#000" stroke-width="0.1">0</text>
<text transform="translate(199.78,526.50) scale(1.15,1)" font-size="4.1" font-weight="bold" fill="#000" text-anchor="middle" stroke="#000" stroke-width="0.1">0</text>
<line x1="32.40" y1="529.25" x2="41.80" y2="529.25" stroke="#00aa44" stroke-width="2.3" stroke-linecap="round"/>
<text transform="translate(46.80,530.75) scale(1.15,1)" font-size="4.1" font-weight="bold" fill="#000" text-anchor="middle" stroke="#000" stroke-width="0.1">13</text>
<text transform="translate(66.94,530.75) scale(1.15,1)" font-size="4.1" font-weight="bold" fill="#000" text-anchor="middle" stroke="#000" stroke-width="0.1">5</text>
<text transform="translate(89.08,530.75) scale(1.15,1)" font-size="4.1" font-weight="bold" fill="#000" text-anchor="middle" stroke="#000" stroke-width="0.1">1</text>
<text transform="translate(111.22,530.75) scale(1.15,1)" font-size="4.1" font-weight="bold" fill="#000" text-anchor="middle" stroke="#000" stroke-width="0.1">1</text>
<text transform="translate(133.36,530.75) scale(1.15,1)" font-size="4.1" font-weight="bold" fill="#000" text-anchor="middle" stroke="#000" stroke-width="0.1">1</text>
<text transform="translate(155.50,530.75) scale(1.15,1)" font-size="4.1" font-weight="bold" fill="#000" text-anchor="middle" stroke="#000" stroke-width="0.1">1</text>
<text transform="translate(177.64,530.75) scale(1.15,1)" font-size="4.1" font-weight="bold" fill="#000" text-anchor="middle" stroke="#000" stroke-width="0.1">0</text>
<text transform="translate(199.78,530.75) scale(1.15,1)" font-size="4.1" font-weight="bold" fill="#000" text-anchor="middle" stroke="#000" stroke-width="0.1">0</text>
<line x1="32.40" y1="533.50" x2="41.80" y2="533.50" stroke="#000" stroke-width="2.3" stroke-linecap="round"/>
<text transform="translate(46.80,535.00) scale(1.15,1)" font-size="4.1" font-weight="bold" fill="#000" text-anchor="middle" stroke="#000" stroke-width="0.1">9</text>
<text transform="translate(66.94,535.00) scale(1.15,1)" font-size="4.1" font-weight="bold" fill="#000" text-anchor="middle" stroke="#000" stroke-width="0.1">1</text>
<text transform="translate(89.08,535.00) scale(1.15,1)" font-size="4.1" font-weight="bold" fill="#000" text-anchor="middle" stroke="#000" stroke-width="0.1">1</text>
<text transform="translate(111.22,535.00) scale(1.15,1)" font-size="4.1" font-weight="bold" fill="#000" text-anchor="middle" stroke="#000" stroke-width="0.1">1</text>
<text transform="translate(133.36,535.00) scale(1.15,1)" font-size="4.1" font-weight="bold" fill="#000" text-anchor="middle" stroke="#000" stroke-width="0.1">0</text>
<text transform="translate(155.50,535.00) scale(1.15,1)" font-size="4.1" font-weight="bold" fill="#000" text-anchor="middle" stroke="#000" stroke-width="0.1">0</text>
<text transform="translate(177.64,535.00) scale(1.15,1)" font-size="4.1" font-weight="bold" fill="#000" text-anchor="middle" stroke="#000" stroke-width="0.1">0</text>
<text transform="translate(199.78,535.00) scale(1.15,1)" font-size="4.1" font-weight="bold" fill="#000" text-anchor="middle" stroke="#000" stroke-width="0.1">0</text>
<line x1="32.40" y1="537.75" x2="41.80" y2="537.75" stroke="#ff0000" stroke-width="2.3" stroke-linecap="round"/>
<text transform="translate(46.80,539.25) scale(1.15,1)" font-size="4.1" font-weight="bold" fill="#000" text-anchor="middle" stroke="#000" stroke-width="0.1">9</text>
<text transform="translate(66.94,539.25) scale(1.15,1)" font-size="4.1" font-weight="bold" fill="#000" text-anchor="middle" stroke="#000" stroke-width="0.1">1</text>
<text transform="translate(89.08,539.25) scale(1.15,1)" font-size="4.1" font-weight="bold" fill="#000" text-anchor="middle" stroke="#000" stroke-width="0.1">1</text>
<text transform="translate(111.22,539.25) scale(1.15,1)" font-size="4.1" font-weight="bold" fill="#000" text-anchor="middle" stroke="#000" stroke-width="0.1">0</text>
<text transform="translate(133.36,539.25) scale(1.15,1)" font-size="4.1" font-weight="bold" fill="#000" text-anchor="middle" stroke="#000" stroke-width="0.1">0</text>
<text transform="translate(155.50,539.25) scale(1.15,1)" font-size="4.1" font-weight="bold" fill="#000" text-anchor="middle" stroke="#000" stroke-width="0.1">0</text>
<text transform="translate(177.64,539.25) scale(1.15,1)" font-size="4.1" font-weight="bold" fill="#000" text-anchor="middle" stroke="#000" stroke-width="0.1">0</text>
<text transform="translate(199.78,539.25) scale(1.15,1)" font-size="4.1" font-weight="bold" fill="#000" text-anchor="middle" stroke="#000" stroke-width="0.1">0</text>
<line x1="32.40" y1="542.00" x2="41.80" y2="542.00" stroke="#6e2aaa" stroke-width="2.3" stroke-linecap="round"/>
<text transform="translate(46.80,543.50) scale(1.15,1)" font-size="4.1" font-weight="bold" fill="#000" text-anchor="middle" stroke="#000" stroke-width="0.1">6</text>
<text transform="translate(66.94,543.50) scale(1.15,1)" font-size="4.1" font-weight="bold" fill="#000" text-anchor="middle" stroke="#000" stroke-width="0.1">2</text>
<text transform="translate(89.08,543.50) scale(1.15,1)" font-size="4.1" font-weight="bold" fill="#000" text-anchor="middle" stroke="#000" stroke-width="0.1">1</text>
<text transform="translate(111.22,543.50) scale(1.15,1)" font-size="4.1" font-weight="bold" fill="#000" text-anchor="middle" stroke="#000" stroke-width="0.1">1</text>
<text transform="translate(133.36,543.50) scale(1.15,1)" font-size="4.1" font-weight="bold" fill="#000" text-anchor="middle" stroke="#000" stroke-width="0.1">0</text>
<text transform="translate(155.50,543.50) scale(1.15,1)" font-size="4.1" font-weight="bold" fill="#000" text-anchor="middle" stroke="#000" stroke-width="0.1">0</text>
<text transform="translate(177.64,543.50) scale(1.15,1)" font-size="4.1" font-weight="bold" fill="#000" text-anchor="middle" stroke="#000" stroke-width="0.1">0</text>
<text transform="translate(199.78,543.50) scale(1.15,1)" font-size="4.1" font-weight="bold" fill="#000" text-anchor="middle" stroke="#000" stroke-width="0.1">0</text>
<path d="M44.70,382.00H49.00V389.80H52.30V397.80H58.40V408.20H60.30V426.50H65.60V445.50H81.90V455.30H85.30V464.10H115.80V477.30H125.30V490.00H147.90" fill="none" stroke="#5276cc" stroke-width="1.1" stroke-linejoin="miter"/>
<path d="M44.70,382.00H49.00V395.50H57.30V435.50H60.60V448.90H63.10V476.10H65.60V489.30H108.20V502.40" fill="none" stroke="#2c2c2c" stroke-width="1.1" stroke-linejoin="miter"/>
<path d="M44.70,382.00H47.40V400.60H49.60V410.00H52.20V428.30H55.60V436.50H60.60V446.40H64.80V455.50H70.00V464.90H73.00V474.70H83.00V483.60H166.80" fill="none" stroke="#36c274" stroke-width="1.1" stroke-linejoin="miter"/>
<path d="M44.70,382.00H49.00V395.50H51.60V435.60H55.70V449.40H58.20V476.10H61.10V489.40H91.40V502.40" fill="none" stroke="#ff6262" stroke-width="1.1" stroke-linejoin="miter"/>
<path d="M44.70,382.00H49.00V402.00H57.90V421.80H63.90V462.50H141.80" fill="none" stroke="#ab5abc" stroke-width="1.1" stroke-linejoin="miter"/>
<text transform="translate(150.40,382.50) scale(0.765,1)" font-size="6.2" font-weight="bold" fill="#000" text-anchor="start" stroke="#000" stroke-width="0.12">Median PFS2 (range)</text>
<line x1="129.70" y1="384.60" x2="202.80" y2="384.60" stroke="#666" stroke-width="1.2"/>
<text transform="translate(128.00,393.10) scale(0.765,1)" font-size="6.2" font-weight="bold" fill="#0a78d8" text-anchor="start" stroke="#0a78d8" stroke-width="0.3">Capecitabine</text>
<text transform="translate(161.00,393.10) scale(0.765,1)" font-size="6.2" font-weight="bold" fill="#000" text-anchor="start" stroke="#000" stroke-width="0.12">5.70</text>
<text transform="translate(172.00,393.10) scale(0.765,1)" font-size="6.2" font-weight="bold" fill="#000" text-anchor="start" stroke="#000" stroke-width="0.12">(0.0, 12.29)</text>
<text transform="translate(128.00,400.05) scale(0.765,1)" font-size="6.2" font-weight="bold" fill="#00a848" text-anchor="start" stroke="#00a848" stroke-width="0.3">Exe+Eve</text>
<text transform="translate(161.00,400.05) scale(0.765,1)" font-size="6.2" font-weight="bold" fill="#000" text-anchor="start" stroke="#000" stroke-width="0.12">4.17</text>
<text transform="translate(172.00,400.05) scale(0.765,1)" font-size="6.2" font-weight="bold" fill="#000" text-anchor="start" stroke="#000" stroke-width="0.12">(0.29, 8.04)</text>
<text transform="translate(128.00,407.00) scale(0.765,1)" font-size="6.2" font-weight="bold" fill="#000" text-anchor="start" stroke="#000" stroke-width="0.3">CytoChemo</text>
<text transform="translate(161.00,407.00) scale(0.765,1)" font-size="6.2" font-weight="bold" fill="#000" text-anchor="start" stroke="#000" stroke-width="0.12">4.23</text>
<text transform="translate(172.00,407.00) scale(0.765,1)" font-size="6.2" font-weight="bold" fill="#000" text-anchor="start" stroke="#000" stroke-width="0.12">(2.87, 5.60)</text>
<text transform="translate(128.00,413.95) scale(0.765,1)" font-size="6.2" font-weight="bold" fill="#ff0000" text-anchor="start" stroke="#ff0000" stroke-width="0.3">Fulvestrant</text>
<text transform="translate(161.00,413.95) scale(0.765,1)" font-size="6.2" font-weight="bold" fill="#000" text-anchor="start" stroke="#000" stroke-width="0.12">2.87</text>
<text transform="translate(172.00,413.95) scale(0.765,1)" font-size="6.2" font-weight="bold" fill="#000" text-anchor="start" stroke="#000" stroke-width="0.12">(0.43, 5.30)</text>
<text transform="translate(128.00,420.90) scale(0.765,1)" font-size="6.2" font-weight="bold" fill="#7434b8" text-anchor="start" stroke="#7434b8" stroke-width="0.3">Clinicaltrials</text>
<text transform="translate(161.00,420.90) scale(0.765,1)" font-size="6.2" font-weight="bold" fill="#000" text-anchor="start" stroke="#000" stroke-width="0.12">5.10</text>
<text transform="translate(172.00,420.90) scale(0.765,1)" font-size="6.2" font-weight="bold" fill="#000" text-anchor="start" stroke="#000" stroke-width="0.12">(3.13, 7.06)</text>
<rect x="243.80" y="374.30" width="175.90" height="136.10" fill="none" stroke="#8c8c8c" stroke-width="1.05"/>
<text transform="translate(214.60,378.40) scale(1.0,1)" font-size="7.3" font-weight="bold" fill="#000" text-anchor="start" stroke="#000" stroke-width="0.22">(F)</text>
<line x1="241.40" y1="504.10" x2="243.80" y2="504.10" stroke="#333" stroke-width="0.9"/>
<text transform="translate(241.00,506.20) scale(0.85,1)" font-size="4.8" font-weight="bold" fill="#000" text-anchor="end" stroke="#000" stroke-width="0.2">0.0</text>
<line x1="241.40" y1="479.44" x2="243.80" y2="479.44" stroke="#333" stroke-width="0.9"/>
<text transform="translate(241.00,481.54) scale(0.85,1)" font-size="4.8" font-weight="bold" fill="#000" text-anchor="end" stroke="#000" stroke-width="0.2">0.2</text>
<line x1="241.40" y1="454.78" x2="243.80" y2="454.78" stroke="#333" stroke-width="0.9"/>
<text transform="translate(241.00,456.88) scale(0.85,1)" font-size="4.8" font-weight="bold" fill="#000" text-anchor="end" stroke="#000" stroke-width="0.2">0.4</text>
<line x1="241.40" y1="430.12" x2="243.80" y2="430.12" stroke="#333" stroke-width="0.9"/>
<text transform="translate(241.00,432.22) scale(0.85,1)" font-size="4.8" font-weight="bold" fill="#000" text-anchor="end" stroke="#000" stroke-width="0.2">0.6</text>
<line x1="241.40" y1="405.46" x2="243.80" y2="405.46" stroke="#333" stroke-width="0.9"/>
<text transform="translate(241.00,407.56) scale(0.85,1)" font-size="4.8" font-weight="bold" fill="#000" text-anchor="end" stroke="#000" stroke-width="0.2">0.8</text>
<line x1="241.40" y1="380.80" x2="243.80" y2="380.80" stroke="#333" stroke-width="0.9"/>
<text transform="translate(241.00,382.90) scale(0.85,1)" font-size="4.8" font-weight="bold" fill="#000" text-anchor="end" stroke="#000" stroke-width="0.2">1.0</text>
<text transform="translate(229.30,442.00) rotate(-90) scale(0.9,1)" font-size="5.9" font-weight="normal" fill="#111" stroke="#111" stroke-width="0.18" text-anchor="middle" y="2.1">Overall Survival 2</text>
<line x1="252.40" y1="510.40" x2="252.40" y2="513.00" stroke="#333" stroke-width="0.9"/>
<text transform="translate(252.40,518.15) scale(0.9,1)" font-size="4.8" font-weight="bold" fill="#000" text-anchor="middle" stroke="#000" stroke-width="0.2">0</text>
<line x1="278.77" y1="510.40" x2="278.77" y2="513.00" stroke="#333" stroke-width="0.9"/>
<text transform="translate(278.77,518.15) scale(0.9,1)" font-size="4.8" font-weight="bold" fill="#000" text-anchor="middle" stroke="#000" stroke-width="0.2">12</text>
<line x1="305.14" y1="510.40" x2="305.14" y2="513.00" stroke="#333" stroke-width="0.9"/>
<text transform="translate(305.14,518.15) scale(0.9,1)" font-size="4.8" font-weight="bold" fill="#000" text-anchor="middle" stroke="#000" stroke-width="0.2">24</text>
<line x1="331.51" y1="510.40" x2="331.51" y2="513.00" stroke="#333" stroke-width="0.9"/>
<text transform="translate(331.51,518.15) scale(0.9,1)" font-size="4.8" font-weight="bold" fill="#000" text-anchor="middle" stroke="#000" stroke-width="0.2">36</text>
<line x1="357.88" y1="510.40" x2="357.88" y2="513.00" stroke="#333" stroke-width="0.9"/>
<text transform="translate(357.88,518.15) scale(0.9,1)" font-size="4.8" font-weight="bold" fill="#000" text-anchor="middle" stroke="#000" stroke-width="0.2">48</text>
<line x1="384.25" y1="510.40" x2="384.25" y2="513.00" stroke="#333" stroke-width="0.9"/>
<text transform="translate(384.25,518.15) scale(0.9,1)" font-size="4.8" font-weight="bold" fill="#000" text-anchor="middle" stroke="#000" stroke-width="0.2">60</text>
<line x1="410.62" y1="510.40" x2="410.62" y2="513.00" stroke="#333" stroke-width="0.9"/>
<text transform="translate(410.62,518.15) scale(0.9,1)" font-size="4.8" font-weight="bold" fill="#000" text-anchor="middle" stroke="#000" stroke-width="0.2">72</text>
<text transform="translate(332.60,522.05) scale(0.8,1)" font-size="5.2" font-weight="bold" fill="#000" text-anchor="middle" stroke="#000" stroke-width="0.15">Months</text>
<text transform="translate(248.80,507.50) scale(0.765,1)" font-size="6.2" font-weight="bold" fill="#000" text-anchor="start" stroke="#000" stroke-width="0.25">P=0.826</text>
<line x1="236.00" y1="524.70" x2="245.60" y2="524.70" stroke="#0068c8" stroke-width="2.3" stroke-linecap="round"/>
<text transform="translate(253.00,526.50) scale(1.15,1)" font-size="4.1" font-weight="bold" fill="#000" text-anchor="middle" stroke="#000" stroke-width="0.1">16</text>
<text transform="translate(278.77,526.50) scale(1.15,1)" font-size="4.1" font-weight="bold" fill="#000" text-anchor="middle" stroke="#000" stroke-width="0.1">12</text>
<text transform="translate(305.14,526.50) scale(1.15,1)" font-size="4.1" font-weight="bold" fill="#000" text-anchor="middle" stroke="#000" stroke-width="0.1">7</text>
<text transform="translate(331.51,526.50) scale(1.15,1)" font-size="4.1" font-weight="bold" fill="#000" text-anchor="middle" stroke="#000" stroke-width="0.1">2</text>
<text transform="translate(357.88,526.50) scale(1.15,1)" font-size="4.1" font-weight="bold" fill="#000" text-anchor="middle" stroke="#000" stroke-width="0.1">1</text>
<text transform="translate(384.25,526.50) scale(1.15,1)" font-size="4.1" font-weight="bold" fill="#000" text-anchor="middle" stroke="#000" stroke-width="0.1">0</text>
<text transform="translate(410.62,526.50) scale(1.15,1)" font-size="4.1" font-weight="bold" fill="#000" text-anchor="middle" stroke="#000" stroke-width="0.1">0</text>
<line x1="236.00" y1="528.80" x2="245.60" y2="528.80" stroke="#00aa44" stroke-width="2.3" stroke-linecap="round"/>
<text transform="translate(253.00,530.60) scale(1.15,1)" font-size="4.1" font-weight="bold" fill="#000" text-anchor="middle" stroke="#000" stroke-width="0.1">13</text>
<text transform="translate(278.77,530.60) scale(1.15,1)" font-size="4.1" font-weight="bold" fill="#000" text-anchor="middle" stroke="#000" stroke-width="0.1">8</text>
<text transform="translate(305.14,530.60) scale(1.15,1)" font-size="4.1" font-weight="bold" fill="#000" text-anchor="middle" stroke="#000" stroke-width="0.1">3</text>
<text transform="translate(331.51,530.60) scale(1.15,1)" font-size="4.1" font-weight="bold" fill="#000" text-anchor="middle" stroke="#000" stroke-width="0.1">1</text>
<text transform="translate(357.88,530.60) scale(1.15,1)" font-size="4.1" font-weight="bold" fill="#000" text-anchor="middle" stroke="#000" stroke-width="0.1">0</text>
<text transform="translate(384.25,530.60) scale(1.15,1)" font-size="4.1" font-weight="bold" fill="#000" text-anchor="middle" stroke="#000" stroke-width="0.1">0</text>
<text transform="translate(410.62,530.60) scale(1.15,1)" font-size="4.1" font-weight="bold" fill="#000" text-anchor="middle" stroke="#000" stroke-width="0.1">0</text>
<line x1="236.00" y1="532.90" x2="245.60" y2="532.90" stroke="#000" stroke-width="2.3" stroke-linecap="round"/>
<text transform="translate(253.00,534.70) scale(1.15,1)" font-size="4.1" font-weight="bold" fill="#000" text-anchor="middle" stroke="#000" stroke-width="0.1">9</text>
<text transform="translate(278.77,534.70) scale(1.15,1)" font-size="4.1" font-weight="bold" fill="#000" text-anchor="middle" stroke="#000" stroke-width="0.1">8</text>
<text transform="translate(305.14,534.70) scale(1.15,1)" font-size="4.1" font-weight="bold" fill="#000" text-anchor="middle" stroke="#000" stroke-width="0.1">4</text>
<text transform="translate(331.51,534.70) scale(1.15,1)" font-size="4.1" font-weight="bold" fill="#000" text-anchor="middle" stroke="#000" stroke-width="0.1">0</text>
<text transform="translate(357.88,534.70) scale(1.15,1)" font-size="4.1" font-weight="bold" fill="#000" text-anchor="middle" stroke="#000" stroke-width="0.1">0</text>
<text transform="translate(384.25,534.70) scale(1.15,1)" font-size="4.1" font-weight="bold" fill="#000" text-anchor="middle" stroke="#000" stroke-width="0.1">0</text>
<text transform="translate(410.62,534.70) scale(1.15,1)" font-size="4.1" font-weight="bold" fill="#000" text-anchor="middle" stroke="#000" stroke-width="0.1">0</text>
<line x1="236.00" y1="537.00" x2="245.60" y2="537.00" stroke="#ff0000" stroke-width="2.3" stroke-linecap="round"/>
<text transform="translate(253.00,538.80) scale(1.15,1)" font-size="4.1" font-weight="bold" fill="#000" text-anchor="middle" stroke="#000" stroke-width="0.1">9</text>
<text transform="translate(278.77,538.80) scale(1.15,1)" font-size="4.1" font-weight="bold" fill="#000" text-anchor="middle" stroke="#000" stroke-width="0.1">8</text>
<text transform="translate(305.14,538.80) scale(1.15,1)" font-size="4.1" font-weight="bold" fill="#000" text-anchor="middle" stroke="#000" stroke-width="0.1">5</text>
<text transform="translate(331.51,538.80) scale(1.15,1)" font-size="4.1" font-weight="bold" fill="#000" text-anchor="middle" stroke="#000" stroke-width="0.1">3</text>
<text transform="translate(357.88,538.80) scale(1.15,1)" font-size="4.1" font-weight="bold" fill="#000" text-anchor="middle" stroke="#000" stroke-width="0.1">1</text>
<text transform="translate(384.25,538.80) scale(1.15,1)" font-size="4.1" font-weight="bold" fill="#000" text-anchor="middle" stroke="#000" stroke-width="0.1">1</text>
<text transform="translate(410.62,538.80) scale(1.15,1)" font-size="4.1" font-weight="bold" fill="#000" text-anchor="middle" stroke="#000" stroke-width="0.1">0</text>
<line x1="236.00" y1="541.10" x2="245.60" y2="541.10" stroke="#6e2aaa" stroke-width="2.3" stroke-linecap="round"/>
<text transform="translate(253.00,542.90) scale(1.15,1)" font-size="4.1" font-weight="bold" fill="#000" text-anchor="middle" stroke="#000" stroke-width="0.1">6</text>
<text transform="translate(278.77,542.90) scale(1.15,1)" font-size="4.1" font-weight="bold" fill="#000" text-anchor="middle" stroke="#000" stroke-width="0.1">5</text>
<text transform="translate(305.14,542.90) scale(1.15,1)" font-size="4.1" font-weight="bold" fill="#000" text-anchor="middle" stroke="#000" stroke-width="0.1">3</text>
<text transform="translate(331.51,542.90) scale(1.15,1)" font-size="4.1" font-weight="bold" fill="#000" text-anchor="middle" stroke="#000" stroke-width="0.1">0</text>
<text transform="translate(357.88,542.90) scale(1.15,1)" font-size="4.1" font-weight="bold" fill="#000" text-anchor="middle" stroke="#000" stroke-width="0.1">0</text>
<text transform="translate(384.25,542.90) scale(1.15,1)" font-size="4.1" font-weight="bold" fill="#000" text-anchor="middle" stroke="#000" stroke-width="0.1">0</text>
<text transform="translate(410.62,542.90) scale(1.15,1)" font-size="4.1" font-weight="bold" fill="#000" text-anchor="middle" stroke="#000" stroke-width="0.1">0</text>
<path d="M253.00,380.60H259.30V389.30H267.80V398.30H281.70V408.70H285.50V419.40H377.40V503.40" fill="none" stroke="#5276cc" stroke-width="1.1" stroke-linejoin="miter"/>
<path d="M253.00,380.60H282.20V408.10H317.40V431.80H319.90V455.50H329.80" fill="none" stroke="#2c2c2c" stroke-width="1.1" stroke-linejoin="miter"/>
<path d="M253.00,380.60H272.80V393.10H285.10V407.20H296.40V439.00H338.30V503.40" fill="none" stroke="#36c274" stroke-width="1.1" stroke-linejoin="miter"/>
<path d="M253.00,380.60H263.30V394.50H283.10V408.10H301.60V424.20H331.40V444.00H387.00" fill="none" stroke="#ff6262" stroke-width="1.1" stroke-linejoin="miter"/>
<path d="M253.00,380.60H289.00V405.40H323.70" fill="none" stroke="#ab5abc" stroke-width="1.1" stroke-linejoin="miter"/>
<line x1="301.90" y1="404.40" x2="301.90" y2="406.40" stroke="#ab5abc" stroke-width="0.7"/>
<line x1="310.40" y1="404.40" x2="310.40" y2="406.40" stroke="#ab5abc" stroke-width="0.7"/>
<line x1="317.00" y1="404.40" x2="317.00" y2="406.40" stroke="#ab5abc" stroke-width="0.7"/>
<line x1="323.60" y1="404.40" x2="323.60" y2="406.40" stroke="#ab5abc" stroke-width="0.7"/>
<line x1="260.40" y1="379.60" x2="260.40" y2="381.60" stroke="#ab5abc" stroke-width="0.7"/>
<line x1="269.80" y1="379.60" x2="269.80" y2="381.60" stroke="#ab5abc" stroke-width="0.7"/>
<line x1="277.40" y1="392.10" x2="277.40" y2="394.10" stroke="#36c274" stroke-width="0.7"/>
<text transform="translate(268.00,458.80) scale(0.765,1)" font-size="6.2" font-weight="bold" fill="#000" text-anchor="start" stroke="#000" stroke-width="0.12">Median OS2 (range)</text>
<line x1="249.50" y1="461.30" x2="324.60" y2="461.30" stroke="#666" stroke-width="1.2"/>
<text transform="translate(248.50,469.80) scale(0.765,1)" font-size="6.2" font-weight="bold" fill="#0a78d8" text-anchor="start" stroke="#0a78d8" stroke-width="0.3">Capecitabine</text>
<text transform="translate(283.00,469.80) scale(0.765,1)" font-size="6.2" font-weight="bold" fill="#000" text-anchor="start" stroke="#000" stroke-width="0.12">56.73</text>
<text transform="translate(297.70,469.80) scale(0.765,1)" font-size="6.2" font-weight="bold" fill="#000" text-anchor="start" stroke="#000" stroke-width="0.12">( - , - )</text>
<text transform="translate(248.50,476.90) scale(0.765,1)" font-size="6.2" font-weight="bold" fill="#00a848" text-anchor="start" stroke="#00a848" stroke-width="0.3">Exe+Eve</text>
<text transform="translate(283.00,476.90) scale(0.765,1)" font-size="6.2" font-weight="bold" fill="#000" text-anchor="start" stroke="#000" stroke-width="0.12">39.63</text>
<text transform="translate(297.70,476.90) scale(0.765,1)" font-size="6.2" font-weight="bold" fill="#000" text-anchor="start" stroke="#000" stroke-width="0.12">( - , - )</text>
<text transform="translate(248.50,484.00) scale(0.765,1)" font-size="6.2" font-weight="bold" fill="#000" text-anchor="start" stroke="#000" stroke-width="0.3">CytoChemo</text>
<text transform="translate(283.00,484.00) scale(0.765,1)" font-size="6.2" font-weight="bold" fill="#000" text-anchor="start" stroke="#000" stroke-width="0.12">30.63</text>
<text transform="translate(295.90,484.00) scale(0.765,1)" font-size="6.2" font-weight="bold" fill="#000" text-anchor="start" stroke="#000" stroke-width="0.12">(28.35, 32.92)</text>
<text transform="translate(248.50,491.10) scale(0.765,1)" font-size="6.2" font-weight="bold" fill="#ff0000" text-anchor="start" stroke="#ff0000" stroke-width="0.3">Fulvestrant</text>
<text transform="translate(283.00,491.10) scale(0.765,1)" font-size="6.2" font-weight="bold" fill="#000" text-anchor="start" stroke="#000" stroke-width="0.12">35.73</text>
<text transform="translate(295.90,491.10) scale(0.765,1)" font-size="6.2" font-weight="bold" fill="#000" text-anchor="start" stroke="#000" stroke-width="0.12">(- , -)</text>
<text transform="translate(248.50,498.20) scale(0.765,1)" font-size="6.2" font-weight="bold" fill="#7434b8" text-anchor="start" stroke="#7434b8" stroke-width="0.3">Clinicaltrials</text>
<text transform="translate(283.00,498.20) scale(0.765,1)" font-size="6.2" font-weight="bold" fill="#000" text-anchor="start" stroke="#000" stroke-width="0.12">NR</text>
<text transform="translate(0.00,498.20) scale(0.765,1)" font-size="6.2" font-weight="bold" fill="#000" text-anchor="start" stroke="#000" stroke-width="0.12"></text>
</svg>
</body></html>
